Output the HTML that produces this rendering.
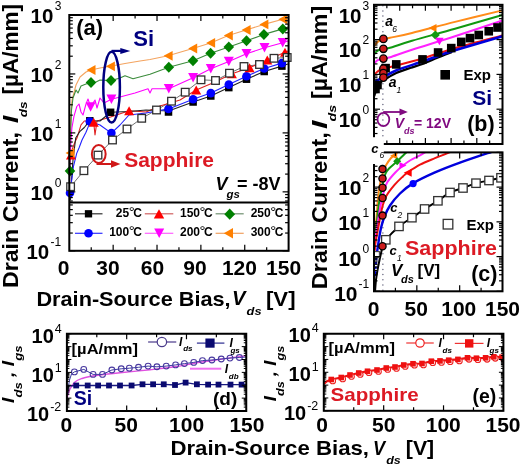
<!DOCTYPE html><html><head><meta charset="utf-8"><style>html,body{margin:0;padding:0;background:#fff;overflow:hidden}svg{display:block}</style></head><body><svg width="520" height="464" viewBox="0 0 520 464" font-family="Liberation Sans, Arial, sans-serif">
<rect width="520" height="464" fill="#fff"/>
<polyline points="69.5,200.0 70.6,186.7 83.9,170.7 98.0,155.1 112.5,140.0 127.0,129.0 141.7,118.3 156.5,110.0 171.5,101.2 185.2,92.2 201.0,79.8 215.5,80.5 229.5,73.2 244.0,66.5 259.5,64.5 274.0,58.3 287.2,57.5" fill="none" stroke="#707070" stroke-width="1" stroke-linejoin="round" />
<polyline points="70.0,153.0 70.5,120.0 72.0,100.0 76.0,85.0 80.0,77.0 86.0,72.0 91.0,70.0 100.0,68.0 110.4,66.3 125.0,63.5 140.0,61.0 150.0,59.5 168.1,55.8 192.7,48.5 210.6,42.9 228.3,35.6 246.1,30.0 263.9,24.4 282.8,19.3 288.0,17.5" fill="none" stroke="#f4a460" stroke-width="1.1" stroke-linejoin="round" />
<polyline points="70.0,171.0 70.5,140.0 71.5,110.0 73.0,98.0 76.0,90.0 78.0,93.0 81.0,86.0 86.0,84.0 91.0,82.5 96.0,82.0 100.0,80.0 111.0,80.6 120.0,78.0 125.0,75.8 133.0,78.8 150.0,74.2 168.8,67.3 193.0,60.8 210.6,53.3 228.8,46.9 246.5,40.8 263.9,34.4 282.8,28.9 288.0,27.0" fill="none" stroke="#3c8c3c" stroke-width="1.1" stroke-linejoin="round" />
<polyline points="69.5,185.0 70.0,160.0 71.0,140.0 71.9,128.0 74.0,116.2 76.8,106.5 79.0,104.0 81.0,112.0 83.0,115.0 86.0,104.0 88.0,99.0 90.6,106.9 95.0,100.0 97.0,108.0 100.0,98.0 104.0,103.0 111.4,99.2 120.0,97.0 135.0,93.0 148.0,88.8 150.0,93.0 152.0,88.8 168.8,88.8 193.1,77.7 210.8,68.7 228.8,61.5 246.5,53.8 264.5,47.7 282.7,42.7 288.0,41.0" fill="none" stroke="#ff00ff" stroke-width="1.1" stroke-linejoin="round" />
<polyline points="70.0,160.0 72.0,150.0 75.0,142.0 77.3,137.2 81.0,124.8 84.3,121.0 89.8,121.0 93.7,122.3 95.0,135.0 97.0,121.0 110.6,117.0 129.1,110.8 146.0,112.0 160.0,106.0 180.0,100.0 196.2,90.0 215.0,82.0 231.9,73.8 249.6,67.7 267.3,60.0 285.0,52.3 288.0,51.0" fill="none" stroke="#e02020" stroke-width="1.1" stroke-linejoin="round" />
<polyline points="70.5,200.0 71.5,180.0 73.0,160.0 75.7,138.0 80.0,131.3 84.3,127.5 87.0,124.2 89.8,120.8 100.0,121.0 110.6,112.3 129.0,111.5 146.0,110.0 168.5,111.0 193.1,102.0 210.8,96.0 228.8,87.6 246.5,79.2 264.2,71.5 281.9,66.1 288.0,64.0" fill="none" stroke="#202020" stroke-width="1.1" stroke-linejoin="round" />
<polyline points="69.5,200.0 70.0,193.0 72.0,178.0 73.4,166.7 76.7,153.4 79.0,148.0 82.0,140.0 86.0,132.3 88.6,125.9 89.8,121.5 100.0,125.0 111.4,133.1 120.0,125.0 129.0,115.0 146.0,113.0 168.5,108.9 193.1,99.2 210.8,93.1 228.8,84.6 246.5,76.2 264.2,68.5 281.9,63.1 288.0,61.0" fill="none" stroke="#2020ff" stroke-width="1.1" stroke-linejoin="round" />
<rect x="86.05" y="117.05" width="7.5" height="7.5" fill="#000" />
<rect x="106.85" y="108.55" width="7.5" height="7.5" fill="#000" />
<rect x="164.75" y="108.25" width="7.5" height="7.5" fill="#000" />
<rect x="189.35" y="98.25" width="7.5" height="7.5" fill="#000" />
<rect x="207.05" y="92.25" width="7.5" height="7.5" fill="#000" />
<rect x="225.05" y="83.85" width="7.5" height="7.5" fill="#000" />
<rect x="242.75" y="75.45" width="7.5" height="7.5" fill="#000" />
<rect x="260.45" y="67.75" width="7.5" height="7.5" fill="#000" />
<rect x="278.15" y="62.35" width="7.5" height="7.5" fill="#000" />
<circle cx="70.00" cy="193.00" r="4.3" fill="#0000ff" />
<circle cx="89.80" cy="121.50" r="4.3" fill="#0000ff" />
<circle cx="111.40" cy="133.10" r="4.3" fill="#0000ff" />
<circle cx="168.50" cy="108.90" r="4.3" fill="#0000ff" />
<circle cx="193.10" cy="99.20" r="4.3" fill="#0000ff" />
<circle cx="210.80" cy="93.10" r="4.3" fill="#0000ff" />
<circle cx="228.80" cy="84.60" r="4.3" fill="#0000ff" />
<circle cx="246.50" cy="76.20" r="4.3" fill="#0000ff" />
<circle cx="264.20" cy="68.50" r="4.3" fill="#0000ff" />
<circle cx="281.90" cy="63.10" r="4.3" fill="#0000ff" />
<polygon points="71.00,150.50 76.00,159.50 66.00,159.50" fill="#ff0000" />
<polygon points="93.70,117.80 98.70,126.80 88.70,126.80" fill="#ff0000" />
<polygon points="129.10,106.30 134.10,115.30 124.10,115.30" fill="#ff0000" />
<polygon points="196.20,85.50 201.20,94.50 191.20,94.50" fill="#ff0000" />
<polygon points="231.90,69.30 236.90,78.30 226.90,78.30" fill="#ff0000" />
<polygon points="249.60,63.20 254.60,72.20 244.60,72.20" fill="#ff0000" />
<polygon points="267.30,55.50 272.30,64.50 262.30,64.50" fill="#ff0000" />
<polygon points="285.00,47.80 290.00,56.80 280.00,56.80" fill="#ff0000" />
<polygon points="90.60,111.65 95.60,102.15 85.60,102.15" fill="#ff00ff" />
<polygon points="111.40,103.95 116.40,94.45 106.40,94.45" fill="#ff00ff" />
<polygon points="168.80,93.55 173.80,84.05 163.80,84.05" fill="#ff00ff" />
<polygon points="193.10,82.45 198.10,72.95 188.10,72.95" fill="#ff00ff" />
<polygon points="210.80,73.45 215.80,63.95 205.80,63.95" fill="#ff00ff" />
<polygon points="228.80,66.25 233.80,56.75 223.80,56.75" fill="#ff00ff" />
<polygon points="246.50,58.55 251.50,49.05 241.50,49.05" fill="#ff00ff" />
<polygon points="264.50,52.45 269.50,42.95 259.50,42.95" fill="#ff00ff" />
<polygon points="282.70,47.45 287.70,37.95 277.70,37.95" fill="#ff00ff" />
<polygon points="70.00,165.50 75.30,171.00 70.00,176.50 64.70,171.00" fill="#008000" />
<polygon points="91.00,77.00 96.30,82.50 91.00,88.00 85.70,82.50" fill="#008000" />
<polygon points="111.00,75.10 116.30,80.60 111.00,86.10 105.70,80.60" fill="#008000" />
<polygon points="168.80,61.80 174.10,67.30 168.80,72.80 163.50,67.30" fill="#008000" />
<polygon points="193.00,55.30 198.30,60.80 193.00,66.30 187.70,60.80" fill="#008000" />
<polygon points="210.60,47.80 215.90,53.30 210.60,58.80 205.30,53.30" fill="#008000" />
<polygon points="228.80,41.40 234.10,46.90 228.80,52.40 223.50,46.90" fill="#008000" />
<polygon points="246.50,35.30 251.80,40.80 246.50,46.30 241.20,40.80" fill="#008000" />
<polygon points="263.90,28.90 269.20,34.40 263.90,39.90 258.60,34.40" fill="#008000" />
<polygon points="282.80,23.40 288.10,28.90 282.80,34.40 277.50,28.90" fill="#008000" />
<polygon points="65.50,153.00 74.50,148.10 74.50,157.90" fill="#ff8000" />
<polygon points="86.50,70.00 95.50,65.10 95.50,74.90" fill="#ff8000" />
<polygon points="105.90,66.30 114.90,61.40 114.90,71.20" fill="#ff8000" />
<polygon points="163.60,55.80 172.60,50.90 172.60,60.70" fill="#ff8000" />
<polygon points="188.20,48.50 197.20,43.60 197.20,53.40" fill="#ff8000" />
<polygon points="206.10,42.90 215.10,38.00 215.10,47.80" fill="#ff8000" />
<polygon points="223.80,35.60 232.80,30.70 232.80,40.50" fill="#ff8000" />
<polygon points="241.60,30.00 250.60,25.10 250.60,34.90" fill="#ff8000" />
<polygon points="259.40,24.40 268.40,19.50 268.40,29.30" fill="#ff8000" />
<polygon points="278.30,19.30 287.30,14.40 287.30,24.20" fill="#ff8000" />
<rect x="66.80" y="182.90" width="7.6" height="7.6" fill="#fff" stroke="#303030" stroke-width="1.3"/>
<rect x="80.10" y="166.90" width="7.6" height="7.6" fill="#fff" stroke="#303030" stroke-width="1.3"/>
<rect x="94.20" y="151.30" width="7.6" height="7.6" fill="#fff" stroke="#303030" stroke-width="1.3"/>
<rect x="108.70" y="136.20" width="7.6" height="7.6" fill="#fff" stroke="#303030" stroke-width="1.3"/>
<rect x="123.20" y="125.20" width="7.6" height="7.6" fill="#fff" stroke="#303030" stroke-width="1.3"/>
<rect x="137.90" y="114.50" width="7.6" height="7.6" fill="#fff" stroke="#303030" stroke-width="1.3"/>
<rect x="152.70" y="106.20" width="7.6" height="7.6" fill="#fff" stroke="#303030" stroke-width="1.3"/>
<rect x="167.70" y="97.40" width="7.6" height="7.6" fill="#fff" stroke="#303030" stroke-width="1.3"/>
<rect x="181.40" y="88.40" width="7.6" height="7.6" fill="#fff" stroke="#303030" stroke-width="1.3"/>
<rect x="197.20" y="76.00" width="7.6" height="7.6" fill="#fff" stroke="#303030" stroke-width="1.3"/>
<rect x="211.70" y="76.70" width="7.6" height="7.6" fill="#fff" stroke="#303030" stroke-width="1.3"/>
<rect x="225.70" y="69.40" width="7.6" height="7.6" fill="#fff" stroke="#303030" stroke-width="1.3"/>
<rect x="240.20" y="62.70" width="7.6" height="7.6" fill="#fff" stroke="#303030" stroke-width="1.3"/>
<rect x="255.70" y="60.70" width="7.6" height="7.6" fill="#fff" stroke="#303030" stroke-width="1.3"/>
<rect x="270.20" y="54.50" width="7.6" height="7.6" fill="#fff" stroke="#303030" stroke-width="1.3"/>
<rect x="283.40" y="53.70" width="7.6" height="7.6" fill="#fff" stroke="#303030" stroke-width="1.3"/>
<ellipse cx="111.6" cy="87.2" rx="8.3" ry="35.4" fill="none" stroke="#000080" stroke-width="2.5"/>
<line x1="111.60" y1="50.90" x2="122.00" y2="50.90" stroke="#000080" stroke-width="2.2" />
<polygon points="120.3,47.9 130.4,50.9 120.3,53.9" fill="#000080"/>
<ellipse cx="98.75" cy="154" rx="6.9" ry="9" fill="none" stroke="#d01818" stroke-width="2"/>
<line x1="96.50" y1="164.00" x2="112.00" y2="164.00" stroke="#d01818" stroke-width="2" />
<polygon points="111,160.3 120.5,164 111,167.7" fill="#d01818"/>
<rect x="70.3" y="203.5" width="217.3" height="46.3" fill="#fff"/>
<line x1="69.30" y1="202.60" x2="288.60" y2="202.60" stroke="#000" stroke-width="2" />
<line x1="69.30" y1="15.00" x2="75.30" y2="15.00" stroke="#000" stroke-width="1.2" />
<line x1="288.60" y1="15.00" x2="282.60" y2="15.00" stroke="#000" stroke-width="1.2" />
<line x1="69.30" y1="56.20" x2="72.80" y2="56.20" stroke="#000" stroke-width="1.2" />
<line x1="288.60" y1="56.20" x2="285.10" y2="56.20" stroke="#000" stroke-width="1.2" />
<line x1="69.30" y1="45.82" x2="72.80" y2="45.82" stroke="#000" stroke-width="1.2" />
<line x1="288.60" y1="45.82" x2="285.10" y2="45.82" stroke="#000" stroke-width="1.2" />
<line x1="69.30" y1="38.46" x2="72.80" y2="38.46" stroke="#000" stroke-width="1.2" />
<line x1="288.60" y1="38.46" x2="285.10" y2="38.46" stroke="#000" stroke-width="1.2" />
<line x1="69.30" y1="32.75" x2="72.80" y2="32.75" stroke="#000" stroke-width="1.2" />
<line x1="288.60" y1="32.75" x2="285.10" y2="32.75" stroke="#000" stroke-width="1.2" />
<line x1="69.30" y1="28.08" x2="72.80" y2="28.08" stroke="#000" stroke-width="1.2" />
<line x1="288.60" y1="28.08" x2="285.10" y2="28.08" stroke="#000" stroke-width="1.2" />
<line x1="69.30" y1="24.13" x2="72.80" y2="24.13" stroke="#000" stroke-width="1.2" />
<line x1="288.60" y1="24.13" x2="285.10" y2="24.13" stroke="#000" stroke-width="1.2" />
<line x1="69.30" y1="20.71" x2="72.80" y2="20.71" stroke="#000" stroke-width="1.2" />
<line x1="288.60" y1="20.71" x2="285.10" y2="20.71" stroke="#000" stroke-width="1.2" />
<line x1="69.30" y1="17.70" x2="72.80" y2="17.70" stroke="#000" stroke-width="1.2" />
<line x1="288.60" y1="17.70" x2="285.10" y2="17.70" stroke="#000" stroke-width="1.2" />
<line x1="69.30" y1="73.95" x2="75.30" y2="73.95" stroke="#000" stroke-width="1.2" />
<line x1="288.60" y1="73.95" x2="282.60" y2="73.95" stroke="#000" stroke-width="1.2" />
<line x1="69.30" y1="115.15" x2="72.80" y2="115.15" stroke="#000" stroke-width="1.2" />
<line x1="288.60" y1="115.15" x2="285.10" y2="115.15" stroke="#000" stroke-width="1.2" />
<line x1="69.30" y1="104.77" x2="72.80" y2="104.77" stroke="#000" stroke-width="1.2" />
<line x1="288.60" y1="104.77" x2="285.10" y2="104.77" stroke="#000" stroke-width="1.2" />
<line x1="69.30" y1="97.41" x2="72.80" y2="97.41" stroke="#000" stroke-width="1.2" />
<line x1="288.60" y1="97.41" x2="285.10" y2="97.41" stroke="#000" stroke-width="1.2" />
<line x1="69.30" y1="91.70" x2="72.80" y2="91.70" stroke="#000" stroke-width="1.2" />
<line x1="288.60" y1="91.70" x2="285.10" y2="91.70" stroke="#000" stroke-width="1.2" />
<line x1="69.30" y1="87.03" x2="72.80" y2="87.03" stroke="#000" stroke-width="1.2" />
<line x1="288.60" y1="87.03" x2="285.10" y2="87.03" stroke="#000" stroke-width="1.2" />
<line x1="69.30" y1="83.08" x2="72.80" y2="83.08" stroke="#000" stroke-width="1.2" />
<line x1="288.60" y1="83.08" x2="285.10" y2="83.08" stroke="#000" stroke-width="1.2" />
<line x1="69.30" y1="79.66" x2="72.80" y2="79.66" stroke="#000" stroke-width="1.2" />
<line x1="288.60" y1="79.66" x2="285.10" y2="79.66" stroke="#000" stroke-width="1.2" />
<line x1="69.30" y1="76.65" x2="72.80" y2="76.65" stroke="#000" stroke-width="1.2" />
<line x1="288.60" y1="76.65" x2="285.10" y2="76.65" stroke="#000" stroke-width="1.2" />
<line x1="69.30" y1="132.90" x2="75.30" y2="132.90" stroke="#000" stroke-width="1.2" />
<line x1="288.60" y1="132.90" x2="282.60" y2="132.90" stroke="#000" stroke-width="1.2" />
<line x1="69.30" y1="174.10" x2="72.80" y2="174.10" stroke="#000" stroke-width="1.2" />
<line x1="288.60" y1="174.10" x2="285.10" y2="174.10" stroke="#000" stroke-width="1.2" />
<line x1="69.30" y1="163.72" x2="72.80" y2="163.72" stroke="#000" stroke-width="1.2" />
<line x1="288.60" y1="163.72" x2="285.10" y2="163.72" stroke="#000" stroke-width="1.2" />
<line x1="69.30" y1="156.36" x2="72.80" y2="156.36" stroke="#000" stroke-width="1.2" />
<line x1="288.60" y1="156.36" x2="285.10" y2="156.36" stroke="#000" stroke-width="1.2" />
<line x1="69.30" y1="150.65" x2="72.80" y2="150.65" stroke="#000" stroke-width="1.2" />
<line x1="288.60" y1="150.65" x2="285.10" y2="150.65" stroke="#000" stroke-width="1.2" />
<line x1="69.30" y1="145.98" x2="72.80" y2="145.98" stroke="#000" stroke-width="1.2" />
<line x1="288.60" y1="145.98" x2="285.10" y2="145.98" stroke="#000" stroke-width="1.2" />
<line x1="69.30" y1="142.03" x2="72.80" y2="142.03" stroke="#000" stroke-width="1.2" />
<line x1="288.60" y1="142.03" x2="285.10" y2="142.03" stroke="#000" stroke-width="1.2" />
<line x1="69.30" y1="138.61" x2="72.80" y2="138.61" stroke="#000" stroke-width="1.2" />
<line x1="288.60" y1="138.61" x2="285.10" y2="138.61" stroke="#000" stroke-width="1.2" />
<line x1="69.30" y1="135.60" x2="72.80" y2="135.60" stroke="#000" stroke-width="1.2" />
<line x1="288.60" y1="135.60" x2="285.10" y2="135.60" stroke="#000" stroke-width="1.2" />
<line x1="69.30" y1="191.85" x2="75.30" y2="191.85" stroke="#000" stroke-width="1.2" />
<line x1="288.60" y1="191.85" x2="282.60" y2="191.85" stroke="#000" stroke-width="1.2" />
<line x1="69.30" y1="233.05" x2="72.80" y2="233.05" stroke="#000" stroke-width="1.2" />
<line x1="288.60" y1="233.05" x2="285.10" y2="233.05" stroke="#000" stroke-width="1.2" />
<line x1="69.30" y1="222.67" x2="72.80" y2="222.67" stroke="#000" stroke-width="1.2" />
<line x1="288.60" y1="222.67" x2="285.10" y2="222.67" stroke="#000" stroke-width="1.2" />
<line x1="69.30" y1="215.31" x2="72.80" y2="215.31" stroke="#000" stroke-width="1.2" />
<line x1="288.60" y1="215.31" x2="285.10" y2="215.31" stroke="#000" stroke-width="1.2" />
<line x1="69.30" y1="209.60" x2="72.80" y2="209.60" stroke="#000" stroke-width="1.2" />
<line x1="288.60" y1="209.60" x2="285.10" y2="209.60" stroke="#000" stroke-width="1.2" />
<line x1="69.30" y1="204.93" x2="72.80" y2="204.93" stroke="#000" stroke-width="1.2" />
<line x1="288.60" y1="204.93" x2="285.10" y2="204.93" stroke="#000" stroke-width="1.2" />
<line x1="69.30" y1="200.98" x2="72.80" y2="200.98" stroke="#000" stroke-width="1.2" />
<line x1="288.60" y1="200.98" x2="285.10" y2="200.98" stroke="#000" stroke-width="1.2" />
<line x1="69.30" y1="197.56" x2="72.80" y2="197.56" stroke="#000" stroke-width="1.2" />
<line x1="288.60" y1="197.56" x2="285.10" y2="197.56" stroke="#000" stroke-width="1.2" />
<line x1="69.30" y1="194.55" x2="72.80" y2="194.55" stroke="#000" stroke-width="1.2" />
<line x1="288.60" y1="194.55" x2="285.10" y2="194.55" stroke="#000" stroke-width="1.2" />
<line x1="69.30" y1="250.80" x2="75.30" y2="250.80" stroke="#000" stroke-width="1.2" />
<line x1="288.60" y1="250.80" x2="282.60" y2="250.80" stroke="#000" stroke-width="1.2" />
<line x1="91.23" y1="250.80" x2="91.23" y2="247.30" stroke="#000" stroke-width="1.2" />
<line x1="91.23" y1="15.00" x2="91.23" y2="18.50" stroke="#000" stroke-width="1.2" />
<line x1="113.16" y1="250.80" x2="113.16" y2="244.80" stroke="#000" stroke-width="1.2" />
<line x1="113.16" y1="15.00" x2="113.16" y2="21.00" stroke="#000" stroke-width="1.2" />
<line x1="135.09" y1="250.80" x2="135.09" y2="247.30" stroke="#000" stroke-width="1.2" />
<line x1="135.09" y1="15.00" x2="135.09" y2="18.50" stroke="#000" stroke-width="1.2" />
<line x1="157.02" y1="250.80" x2="157.02" y2="244.80" stroke="#000" stroke-width="1.2" />
<line x1="157.02" y1="15.00" x2="157.02" y2="21.00" stroke="#000" stroke-width="1.2" />
<line x1="178.95" y1="250.80" x2="178.95" y2="247.30" stroke="#000" stroke-width="1.2" />
<line x1="178.95" y1="15.00" x2="178.95" y2="18.50" stroke="#000" stroke-width="1.2" />
<line x1="200.88" y1="250.80" x2="200.88" y2="244.80" stroke="#000" stroke-width="1.2" />
<line x1="200.88" y1="15.00" x2="200.88" y2="21.00" stroke="#000" stroke-width="1.2" />
<line x1="222.81" y1="250.80" x2="222.81" y2="247.30" stroke="#000" stroke-width="1.2" />
<line x1="222.81" y1="15.00" x2="222.81" y2="18.50" stroke="#000" stroke-width="1.2" />
<line x1="244.74" y1="250.80" x2="244.74" y2="244.80" stroke="#000" stroke-width="1.2" />
<line x1="244.74" y1="15.00" x2="244.74" y2="21.00" stroke="#000" stroke-width="1.2" />
<line x1="266.67" y1="250.80" x2="266.67" y2="247.30" stroke="#000" stroke-width="1.2" />
<line x1="266.67" y1="15.00" x2="266.67" y2="18.50" stroke="#000" stroke-width="1.2" />
<rect x="69.3" y="15.0" width="219.30" height="235.80" fill="none" stroke="#000" stroke-width="2"/>
<line x1="75.00" y1="213.80" x2="102.50" y2="213.80" stroke="#303030" stroke-width="1.2" />
<rect x="84.85" y="210.15" width="7.3" height="7.3" fill="#000" />
<line x1="75.00" y1="233.30" x2="102.50" y2="233.30" stroke="#3030ff" stroke-width="1.2" />
<circle cx="88.50" cy="233.30" r="4.3" fill="#0000ff" />
<line x1="144.80" y1="213.80" x2="173.30" y2="213.80" stroke="#d06060" stroke-width="1.2" />
<polygon points="159.00,209.20 164.20,218.40 153.80,218.40" fill="#ff0000" />
<line x1="144.80" y1="233.30" x2="173.30" y2="233.30" stroke="#ff60ff" stroke-width="1.2" />
<polygon points="159.20,238.05 164.20,228.55 154.20,228.55" fill="#ff00ff" />
<line x1="215.60" y1="213.80" x2="243.70" y2="213.80" stroke="#709070" stroke-width="1.2" />
<polygon points="229.70,208.55 235.10,214.20 229.70,219.85 224.30,214.20" fill="#008000" />
<line x1="215.60" y1="233.30" x2="243.70" y2="233.30" stroke="#f0a060" stroke-width="1.2" />
<polygon points="223.80,233.30 233.00,228.10 233.00,238.50" fill="#ff8000" />
<text x="141.80" y="217.30" font-size="12" font-weight="bold" font-style="normal" fill="#000" text-anchor="end" >C</text>
<text x="128.70" y="216.60" font-size="15" font-weight="normal" font-style="normal" fill="#000" text-anchor="start" >°</text>
<text x="129.20" y="217.30" font-size="12" font-weight="bold" font-style="normal" fill="#000" text-anchor="end" >25</text>
<text x="141.80" y="236.30" font-size="12" font-weight="bold" font-style="normal" fill="#000" text-anchor="end" >C</text>
<text x="128.70" y="235.60" font-size="15" font-weight="normal" font-style="normal" fill="#000" text-anchor="start" >°</text>
<text x="129.20" y="236.30" font-size="12" font-weight="bold" font-style="normal" fill="#000" text-anchor="end" >100</text>
<text x="212.60" y="217.30" font-size="12" font-weight="bold" font-style="normal" fill="#000" text-anchor="end" >C</text>
<text x="199.50" y="216.60" font-size="15" font-weight="normal" font-style="normal" fill="#000" text-anchor="start" >°</text>
<text x="200.00" y="217.30" font-size="12" font-weight="bold" font-style="normal" fill="#000" text-anchor="end" >150</text>
<text x="212.60" y="236.30" font-size="12" font-weight="bold" font-style="normal" fill="#000" text-anchor="end" >C</text>
<text x="199.50" y="235.60" font-size="15" font-weight="normal" font-style="normal" fill="#000" text-anchor="start" >°</text>
<text x="200.00" y="236.30" font-size="12" font-weight="bold" font-style="normal" fill="#000" text-anchor="end" >200</text>
<text x="283.30" y="217.30" font-size="12" font-weight="bold" font-style="normal" fill="#000" text-anchor="end" >C</text>
<text x="270.20" y="216.60" font-size="15" font-weight="normal" font-style="normal" fill="#000" text-anchor="start" >°</text>
<text x="270.70" y="217.30" font-size="12" font-weight="bold" font-style="normal" fill="#000" text-anchor="end" >250</text>
<text x="283.30" y="236.30" font-size="12" font-weight="bold" font-style="normal" fill="#000" text-anchor="end" >C</text>
<text x="270.20" y="235.60" font-size="15" font-weight="normal" font-style="normal" fill="#000" text-anchor="start" >°</text>
<text x="270.70" y="236.30" font-size="12" font-weight="bold" font-style="normal" fill="#000" text-anchor="end" >300</text>
<text x="76.30" y="35.30" font-size="22" font-weight="bold" font-style="normal" fill="#000" text-anchor="start" >(a)</text>
<text x="133.30" y="45.80" font-size="22" font-weight="bold" font-style="normal" fill="#000080" text-anchor="start" >Si</text>
<text x="124.20" y="167.00" font-size="21" font-weight="bold" font-style="normal" fill="#dc1a24" text-anchor="start" >Sapphire</text>
<text x="215.60" y="190.20" font-size="18" font-weight="bold" font-style="italic" fill="#000" text-anchor="start" >V</text>
<text x="226.40" y="197.60" font-size="11.5" font-weight="bold" font-style="italic" fill="#000" text-anchor="start" >gs</text>
<text x="280.60" y="190.20" font-size="18" font-weight="bold" font-style="normal" fill="#000" text-anchor="end" >= -8V</text>
<text x="53.40" y="22.80" font-size="20.5" font-weight="bold" font-style="normal" fill="#000" text-anchor="end" >10</text>
<text x="54.80" y="10.20" font-size="12" font-weight="normal" font-style="normal" fill="#000" text-anchor="start" >3</text>
<text x="53.40" y="81.75" font-size="20.5" font-weight="bold" font-style="normal" fill="#000" text-anchor="end" >10</text>
<text x="54.80" y="69.15" font-size="12" font-weight="normal" font-style="normal" fill="#000" text-anchor="start" >2</text>
<text x="53.40" y="140.70" font-size="20.5" font-weight="bold" font-style="normal" fill="#000" text-anchor="end" >10</text>
<text x="54.80" y="128.10" font-size="12" font-weight="normal" font-style="normal" fill="#000" text-anchor="start" >1</text>
<text x="53.40" y="199.65" font-size="20.5" font-weight="bold" font-style="normal" fill="#000" text-anchor="end" >10</text>
<text x="54.80" y="187.05" font-size="12" font-weight="normal" font-style="normal" fill="#000" text-anchor="start" >0</text>
<text x="49.20" y="258.60" font-size="20.5" font-weight="bold" font-style="normal" fill="#000" text-anchor="end" >10</text>
<text x="50.60" y="246.00" font-size="12" font-weight="normal" font-style="normal" fill="#000" text-anchor="start" >-1</text>
<text x="63.50" y="275.30" font-size="21" font-weight="bold" font-style="normal" fill="#000" text-anchor="middle" >0</text>
<text x="107.90" y="275.30" font-size="21" font-weight="bold" font-style="normal" fill="#000" text-anchor="middle" >30</text>
<text x="152.50" y="275.30" font-size="21" font-weight="bold" font-style="normal" fill="#000" text-anchor="middle" >60</text>
<text x="195.00" y="275.30" font-size="21" font-weight="bold" font-style="normal" fill="#000" text-anchor="middle" >90</text>
<text x="239.40" y="275.30" font-size="21" font-weight="bold" font-style="normal" fill="#000" text-anchor="middle" >120</text>
<text x="283.60" y="275.30" font-size="21" font-weight="bold" font-style="normal" fill="#000" text-anchor="middle" >150</text>
<text x="36.40" y="306.00" font-size="20.5" font-weight="bold" font-style="normal" fill="#000" textLength="194.26" lengthAdjust="spacingAndGlyphs">Drain-Source Bias,</text>
<text x="232.00" y="305.40" font-size="20.5" font-weight="bold" font-style="italic" fill="#000" textLength="13.48" lengthAdjust="spacingAndGlyphs">V</text>
<text x="246.60" y="314.60" font-size="11.5" font-weight="bold" font-style="italic" fill="#000" textLength="15.00" lengthAdjust="spacingAndGlyphs">ds</text>
<text x="266.00" y="306.00" font-size="20.5" font-weight="bold" font-style="normal" fill="#000" textLength="29.52" lengthAdjust="spacingAndGlyphs">[V]</text>
<text transform="translate(17.60,288.10) rotate(-90)" font-size="21.5" font-weight="bold" font-style="normal" fill="#000" textLength="155.96" lengthAdjust="spacingAndGlyphs">Drain Current,</text>
<text transform="translate(17.80,123.20) rotate(-90)" font-size="21.5" font-weight="bold" font-style="italic" fill="#000" textLength="7.60" lengthAdjust="spacingAndGlyphs">I</text>
<text transform="translate(26.90,117.20) rotate(-90)" font-size="11.5" font-weight="bold" font-style="italic" fill="#000" textLength="15.90" lengthAdjust="spacingAndGlyphs">ds</text>
<text transform="translate(17.60,94.60) rotate(-90)" font-size="21.5" font-weight="bold" font-style="normal" fill="#000" textLength="90.57" lengthAdjust="spacingAndGlyphs">[µA/mm]</text>
<clipPath id="cb"><rect x="374.0" y="4.8" width="128.5" height="139.2"/></clipPath>
<g clip-path="url(#cb)">
<circle cx="382.90" cy="5.70" r="0.75" fill="#686880" />
<circle cx="382.90" cy="10.90" r="0.75" fill="#686880" />
<circle cx="382.90" cy="16.10" r="0.75" fill="#686880" />
<circle cx="382.90" cy="21.30" r="0.75" fill="#686880" />
<circle cx="382.90" cy="26.50" r="0.75" fill="#686880" />
<circle cx="382.90" cy="31.70" r="0.75" fill="#686880" />
<circle cx="382.90" cy="36.90" r="0.75" fill="#686880" />
<circle cx="382.90" cy="42.10" r="0.75" fill="#686880" />
<circle cx="382.90" cy="47.30" r="0.75" fill="#686880" />
<circle cx="382.90" cy="52.50" r="0.75" fill="#686880" />
<circle cx="382.90" cy="57.70" r="0.75" fill="#686880" />
<circle cx="382.90" cy="62.90" r="0.75" fill="#686880" />
<circle cx="382.90" cy="68.10" r="0.75" fill="#686880" />
<circle cx="382.90" cy="73.30" r="0.75" fill="#686880" />
<circle cx="382.90" cy="78.50" r="0.75" fill="#686880" />
<circle cx="382.90" cy="83.70" r="0.75" fill="#686880" />
<circle cx="382.90" cy="88.90" r="0.75" fill="#686880" />
<circle cx="382.90" cy="94.10" r="0.75" fill="#686880" />
<circle cx="382.90" cy="99.30" r="0.75" fill="#686880" />
<circle cx="382.90" cy="104.50" r="0.75" fill="#686880" />
<circle cx="382.90" cy="109.70" r="0.75" fill="#686880" />
<circle cx="382.90" cy="114.90" r="0.75" fill="#686880" />
<circle cx="382.90" cy="120.10" r="0.75" fill="#686880" />
<circle cx="382.90" cy="125.30" r="0.75" fill="#686880" />
<circle cx="382.90" cy="130.50" r="0.75" fill="#686880" />
<circle cx="382.90" cy="135.70" r="0.75" fill="#686880" />
<circle cx="382.90" cy="140.90" r="0.75" fill="#686880" />
<path d="M374.00,46.50 C374.42,45.92 375.58,43.98 376.50,43.00 C377.42,42.02 378.33,41.23 379.50,40.60 C380.67,39.97 381.75,39.67 383.50,39.20 C385.25,38.73 385.25,38.83 390.00,37.80 C394.75,36.77 401.17,35.65 412.00,33.00 C422.83,30.35 439.92,25.67 455.00,21.90 C470.08,18.13 494.58,12.32 502.50,10.40" fill="none" stroke="#ff8c1a" stroke-width="2" stroke-linejoin="round" stroke-linecap="round" />
<path d="M374.00,54.50 C374.42,54.00 375.58,52.28 376.50,51.50 C377.42,50.72 378.33,50.25 379.50,49.80 C380.67,49.35 381.75,49.13 383.50,48.80 C385.25,48.47 385.25,49.13 390.00,47.80 C394.75,46.47 401.17,43.97 412.00,40.80 C422.83,37.62 439.92,33.05 455.00,28.75 C470.08,24.45 494.58,17.29 502.50,15.00" fill="none" stroke="#119911" stroke-width="2" stroke-linejoin="round" stroke-linecap="round" />
<path d="M374.00,64.00 C374.42,63.50 375.58,61.77 376.50,61.00 C377.42,60.23 378.33,59.80 379.50,59.40 C380.67,59.00 381.75,58.95 383.50,58.60 C385.25,58.25 385.25,58.78 390.00,57.30 C394.75,55.82 401.17,53.21 412.00,49.70 C422.83,46.19 439.92,41.12 455.00,36.25 C470.08,31.38 494.58,23.12 502.50,20.50" fill="none" stroke="#ff22ff" stroke-width="2" stroke-linejoin="round" stroke-linecap="round" />
<path d="M374.00,75.00 C374.50,74.50 376.00,72.83 377.00,72.00 C378.00,71.17 378.92,70.57 380.00,70.00 C381.08,69.43 380.83,69.35 383.50,68.60 C386.17,67.85 389.50,67.18 396.00,65.50 C402.50,63.82 412.67,61.38 422.50,58.50 C432.33,55.62 441.67,52.03 455.00,48.20 C468.33,44.37 494.58,37.62 502.50,35.50" fill="none" stroke="#ee1111" stroke-width="2" stroke-linejoin="round" stroke-linecap="round" />
<path d="M374.30,96.00 C374.67,94.83 375.72,91.00 376.50,89.00 C377.28,87.00 377.92,85.42 379.00,84.00 C380.08,82.58 381.50,81.58 383.00,80.50 C384.50,79.42 385.79,78.75 388.00,77.50 C390.21,76.25 392.58,74.58 396.25,73.00 C399.92,71.42 405.62,69.50 410.00,68.00 C414.38,66.50 417.83,65.75 422.50,64.00 C427.17,62.25 433.25,59.42 438.00,57.50 C442.75,55.58 448.83,53.33 451.00,52.50" fill="none" stroke="#000" stroke-width="2.2" stroke-linejoin="round" stroke-linecap="round" />
<path d="M374.00,82.50 C374.50,82.17 376.00,81.08 377.00,80.50 C378.00,79.92 378.92,79.50 380.00,79.00 C381.08,78.50 380.83,78.92 383.50,77.50 C386.17,76.08 389.50,73.17 396.00,70.50 C402.50,67.83 415.17,64.05 422.50,61.50 C429.83,58.95 434.58,57.07 440.00,55.20 C445.42,53.33 444.58,53.45 455.00,50.30 C465.42,47.15 494.58,38.63 502.50,36.30" fill="none" stroke="#0000dd" stroke-width="2.6" stroke-linejoin="round" stroke-linecap="round" />
<rect x="371.20" y="84.70" width="8.6" height="8.6" fill="#000" />
<rect x="373.20" y="80.70" width="8.6" height="8.6" fill="#000" />
<rect x="381.30" y="63.80" width="8.6" height="8.6" fill="#000" />
<rect x="391.95" y="60.10" width="8.6" height="8.6" fill="#000" />
<rect x="418.20" y="55.10" width="8.6" height="8.6" fill="#000" />
<rect x="433.80" y="48.20" width="8.6" height="8.6" fill="#000" />
<rect x="446.95" y="43.80" width="8.6" height="8.6" fill="#000" />
<rect x="456.95" y="37.60" width="8.6" height="8.6" fill="#000" />
<rect x="465.70" y="33.80" width="8.6" height="8.6" fill="#000" />
<rect x="474.45" y="30.70" width="8.6" height="8.6" fill="#000" />
<rect x="484.45" y="26.95" width="8.6" height="8.6" fill="#000" />
<rect x="493.20" y="23.20" width="8.6" height="8.6" fill="#000" />
<polygon points="428.50,28.10 436.50,24.10 436.50,32.10" fill="#ff7f00" />
<polygon points="435.30,30.50 439.80,35.00 435.30,39.50 430.80,35.00" fill="#119911" />
<polygon points="439.40,45.25 443.65,37.75 435.15,37.75" fill="#ff00ff" />
<circle cx="383.40" cy="38.90" r="3.7" fill="#cc1c1c" stroke="#000" stroke-width="1.3"/>
<circle cx="383.40" cy="48.80" r="3.7" fill="#cc1c1c" stroke="#000" stroke-width="1.3"/>
<circle cx="383.40" cy="58.60" r="3.7" fill="#cc1c1c" stroke="#000" stroke-width="1.3"/>
<circle cx="383.40" cy="68.60" r="3.7" fill="#cc1c1c" stroke="#000" stroke-width="1.3"/>
<circle cx="383.40" cy="73.10" r="3.7" fill="#cc1c1c" stroke="#000" stroke-width="1.3"/>
<circle cx="383.40" cy="77.60" r="3.7" fill="#cc1c1c" stroke="#000" stroke-width="1.3"/>
</g>
<line x1="374.00" y1="4.80" x2="380.00" y2="4.80" stroke="#000" stroke-width="1.2" />
<line x1="502.50" y1="4.80" x2="496.50" y2="4.80" stroke="#000" stroke-width="1.2" />
<line x1="374.00" y1="29.12" x2="377.50" y2="29.12" stroke="#000" stroke-width="1.2" />
<line x1="502.50" y1="29.12" x2="499.00" y2="29.12" stroke="#000" stroke-width="1.2" />
<line x1="374.00" y1="23.00" x2="377.50" y2="23.00" stroke="#000" stroke-width="1.2" />
<line x1="502.50" y1="23.00" x2="499.00" y2="23.00" stroke="#000" stroke-width="1.2" />
<line x1="374.00" y1="18.65" x2="377.50" y2="18.65" stroke="#000" stroke-width="1.2" />
<line x1="502.50" y1="18.65" x2="499.00" y2="18.65" stroke="#000" stroke-width="1.2" />
<line x1="374.00" y1="15.28" x2="377.50" y2="15.28" stroke="#000" stroke-width="1.2" />
<line x1="502.50" y1="15.28" x2="499.00" y2="15.28" stroke="#000" stroke-width="1.2" />
<line x1="374.00" y1="12.52" x2="377.50" y2="12.52" stroke="#000" stroke-width="1.2" />
<line x1="502.50" y1="12.52" x2="499.00" y2="12.52" stroke="#000" stroke-width="1.2" />
<line x1="374.00" y1="10.19" x2="377.50" y2="10.19" stroke="#000" stroke-width="1.2" />
<line x1="502.50" y1="10.19" x2="499.00" y2="10.19" stroke="#000" stroke-width="1.2" />
<line x1="374.00" y1="8.17" x2="377.50" y2="8.17" stroke="#000" stroke-width="1.2" />
<line x1="502.50" y1="8.17" x2="499.00" y2="8.17" stroke="#000" stroke-width="1.2" />
<line x1="374.00" y1="6.39" x2="377.50" y2="6.39" stroke="#000" stroke-width="1.2" />
<line x1="502.50" y1="6.39" x2="499.00" y2="6.39" stroke="#000" stroke-width="1.2" />
<line x1="374.00" y1="39.60" x2="380.00" y2="39.60" stroke="#000" stroke-width="1.2" />
<line x1="502.50" y1="39.60" x2="496.50" y2="39.60" stroke="#000" stroke-width="1.2" />
<line x1="374.00" y1="63.92" x2="377.50" y2="63.92" stroke="#000" stroke-width="1.2" />
<line x1="502.50" y1="63.92" x2="499.00" y2="63.92" stroke="#000" stroke-width="1.2" />
<line x1="374.00" y1="57.80" x2="377.50" y2="57.80" stroke="#000" stroke-width="1.2" />
<line x1="502.50" y1="57.80" x2="499.00" y2="57.80" stroke="#000" stroke-width="1.2" />
<line x1="374.00" y1="53.45" x2="377.50" y2="53.45" stroke="#000" stroke-width="1.2" />
<line x1="502.50" y1="53.45" x2="499.00" y2="53.45" stroke="#000" stroke-width="1.2" />
<line x1="374.00" y1="50.08" x2="377.50" y2="50.08" stroke="#000" stroke-width="1.2" />
<line x1="502.50" y1="50.08" x2="499.00" y2="50.08" stroke="#000" stroke-width="1.2" />
<line x1="374.00" y1="47.32" x2="377.50" y2="47.32" stroke="#000" stroke-width="1.2" />
<line x1="502.50" y1="47.32" x2="499.00" y2="47.32" stroke="#000" stroke-width="1.2" />
<line x1="374.00" y1="44.99" x2="377.50" y2="44.99" stroke="#000" stroke-width="1.2" />
<line x1="502.50" y1="44.99" x2="499.00" y2="44.99" stroke="#000" stroke-width="1.2" />
<line x1="374.00" y1="42.97" x2="377.50" y2="42.97" stroke="#000" stroke-width="1.2" />
<line x1="502.50" y1="42.97" x2="499.00" y2="42.97" stroke="#000" stroke-width="1.2" />
<line x1="374.00" y1="41.19" x2="377.50" y2="41.19" stroke="#000" stroke-width="1.2" />
<line x1="502.50" y1="41.19" x2="499.00" y2="41.19" stroke="#000" stroke-width="1.2" />
<line x1="374.00" y1="74.40" x2="380.00" y2="74.40" stroke="#000" stroke-width="1.2" />
<line x1="502.50" y1="74.40" x2="496.50" y2="74.40" stroke="#000" stroke-width="1.2" />
<line x1="374.00" y1="98.72" x2="377.50" y2="98.72" stroke="#000" stroke-width="1.2" />
<line x1="502.50" y1="98.72" x2="499.00" y2="98.72" stroke="#000" stroke-width="1.2" />
<line x1="374.00" y1="92.60" x2="377.50" y2="92.60" stroke="#000" stroke-width="1.2" />
<line x1="502.50" y1="92.60" x2="499.00" y2="92.60" stroke="#000" stroke-width="1.2" />
<line x1="374.00" y1="88.25" x2="377.50" y2="88.25" stroke="#000" stroke-width="1.2" />
<line x1="502.50" y1="88.25" x2="499.00" y2="88.25" stroke="#000" stroke-width="1.2" />
<line x1="374.00" y1="84.88" x2="377.50" y2="84.88" stroke="#000" stroke-width="1.2" />
<line x1="502.50" y1="84.88" x2="499.00" y2="84.88" stroke="#000" stroke-width="1.2" />
<line x1="374.00" y1="82.12" x2="377.50" y2="82.12" stroke="#000" stroke-width="1.2" />
<line x1="502.50" y1="82.12" x2="499.00" y2="82.12" stroke="#000" stroke-width="1.2" />
<line x1="374.00" y1="79.79" x2="377.50" y2="79.79" stroke="#000" stroke-width="1.2" />
<line x1="502.50" y1="79.79" x2="499.00" y2="79.79" stroke="#000" stroke-width="1.2" />
<line x1="374.00" y1="77.77" x2="377.50" y2="77.77" stroke="#000" stroke-width="1.2" />
<line x1="502.50" y1="77.77" x2="499.00" y2="77.77" stroke="#000" stroke-width="1.2" />
<line x1="374.00" y1="75.99" x2="377.50" y2="75.99" stroke="#000" stroke-width="1.2" />
<line x1="502.50" y1="75.99" x2="499.00" y2="75.99" stroke="#000" stroke-width="1.2" />
<line x1="374.00" y1="109.20" x2="380.00" y2="109.20" stroke="#000" stroke-width="1.2" />
<line x1="502.50" y1="109.20" x2="496.50" y2="109.20" stroke="#000" stroke-width="1.2" />
<line x1="374.00" y1="133.52" x2="377.50" y2="133.52" stroke="#000" stroke-width="1.2" />
<line x1="502.50" y1="133.52" x2="499.00" y2="133.52" stroke="#000" stroke-width="1.2" />
<line x1="374.00" y1="127.40" x2="377.50" y2="127.40" stroke="#000" stroke-width="1.2" />
<line x1="502.50" y1="127.40" x2="499.00" y2="127.40" stroke="#000" stroke-width="1.2" />
<line x1="374.00" y1="123.05" x2="377.50" y2="123.05" stroke="#000" stroke-width="1.2" />
<line x1="502.50" y1="123.05" x2="499.00" y2="123.05" stroke="#000" stroke-width="1.2" />
<line x1="374.00" y1="119.68" x2="377.50" y2="119.68" stroke="#000" stroke-width="1.2" />
<line x1="502.50" y1="119.68" x2="499.00" y2="119.68" stroke="#000" stroke-width="1.2" />
<line x1="374.00" y1="116.92" x2="377.50" y2="116.92" stroke="#000" stroke-width="1.2" />
<line x1="502.50" y1="116.92" x2="499.00" y2="116.92" stroke="#000" stroke-width="1.2" />
<line x1="374.00" y1="114.59" x2="377.50" y2="114.59" stroke="#000" stroke-width="1.2" />
<line x1="502.50" y1="114.59" x2="499.00" y2="114.59" stroke="#000" stroke-width="1.2" />
<line x1="374.00" y1="112.57" x2="377.50" y2="112.57" stroke="#000" stroke-width="1.2" />
<line x1="502.50" y1="112.57" x2="499.00" y2="112.57" stroke="#000" stroke-width="1.2" />
<line x1="374.00" y1="110.79" x2="377.50" y2="110.79" stroke="#000" stroke-width="1.2" />
<line x1="502.50" y1="110.79" x2="499.00" y2="110.79" stroke="#000" stroke-width="1.2" />
<line x1="374.00" y1="144.00" x2="380.00" y2="144.00" stroke="#000" stroke-width="1.2" />
<line x1="502.50" y1="144.00" x2="496.50" y2="144.00" stroke="#000" stroke-width="1.2" />
<line x1="386.85" y1="144.00" x2="386.85" y2="140.50" stroke="#000" stroke-width="1.2" />
<line x1="386.85" y1="4.80" x2="386.85" y2="8.30" stroke="#000" stroke-width="1.2" />
<line x1="399.70" y1="144.00" x2="399.70" y2="138.00" stroke="#000" stroke-width="1.2" />
<line x1="399.70" y1="4.80" x2="399.70" y2="10.80" stroke="#000" stroke-width="1.2" />
<line x1="412.55" y1="144.00" x2="412.55" y2="140.50" stroke="#000" stroke-width="1.2" />
<line x1="412.55" y1="4.80" x2="412.55" y2="8.30" stroke="#000" stroke-width="1.2" />
<line x1="425.40" y1="144.00" x2="425.40" y2="138.00" stroke="#000" stroke-width="1.2" />
<line x1="425.40" y1="4.80" x2="425.40" y2="10.80" stroke="#000" stroke-width="1.2" />
<line x1="438.25" y1="144.00" x2="438.25" y2="140.50" stroke="#000" stroke-width="1.2" />
<line x1="438.25" y1="4.80" x2="438.25" y2="8.30" stroke="#000" stroke-width="1.2" />
<line x1="451.10" y1="144.00" x2="451.10" y2="138.00" stroke="#000" stroke-width="1.2" />
<line x1="451.10" y1="4.80" x2="451.10" y2="10.80" stroke="#000" stroke-width="1.2" />
<line x1="463.95" y1="144.00" x2="463.95" y2="140.50" stroke="#000" stroke-width="1.2" />
<line x1="463.95" y1="4.80" x2="463.95" y2="8.30" stroke="#000" stroke-width="1.2" />
<line x1="476.80" y1="144.00" x2="476.80" y2="138.00" stroke="#000" stroke-width="1.2" />
<line x1="476.80" y1="4.80" x2="476.80" y2="10.80" stroke="#000" stroke-width="1.2" />
<line x1="489.65" y1="144.00" x2="489.65" y2="140.50" stroke="#000" stroke-width="1.2" />
<line x1="489.65" y1="4.80" x2="489.65" y2="8.30" stroke="#000" stroke-width="1.2" />
<rect x="374.0" y="4.8" width="128.50" height="139.20" fill="none" stroke="#000" stroke-width="2"/>
<rect x="440.40" y="70.00" width="9.6" height="9.6" fill="#000" />
<text x="463.50" y="79.80" font-size="15" font-weight="bold" font-style="normal" fill="#000" text-anchor="start" >Exp</text>
<text x="472.20" y="104.80" font-size="21" font-weight="bold" font-style="normal" fill="#000080" text-anchor="start" >Si</text>
<text x="467.20" y="131.30" font-size="21.5" font-weight="bold" font-style="normal" fill="#000" text-anchor="start" >(b)</text>
<text x="385.30" y="25.50" font-size="14" font-weight="bold" font-style="italic" fill="#000" text-anchor="start" >a</text>
<text x="392.20" y="31.60" font-size="8.5" font-weight="normal" font-style="italic" fill="#000" text-anchor="start" >6</text>
<text x="388.80" y="86.60" font-size="14" font-weight="bold" font-style="italic" fill="#000" text-anchor="start" >a</text>
<text x="396.50" y="93.00" font-size="8.5" font-weight="normal" font-style="italic" fill="#000" text-anchor="start" >1</text>
<ellipse cx="383.4" cy="119.5" rx="5.9" ry="6.6" fill="none" stroke="#800a80" stroke-width="1.8"/>
<line x1="383.20" y1="112.00" x2="401.00" y2="112.00" stroke="#800a80" stroke-width="1.8" />
<polygon points="399.5,108.6 407.8,112 399.5,115.4" fill="#800a80"/>
<text x="394.80" y="127.80" font-size="14" font-weight="bold" font-style="italic" fill="#800a80" text-anchor="start" >V</text>
<text x="404.00" y="134.00" font-size="9" font-weight="bold" font-style="italic" fill="#800a80" text-anchor="start" >ds</text>
<text x="414.00" y="127.80" font-size="14" font-weight="bold" font-style="normal" fill="#800a80" text-anchor="start" >= 12V</text>
<clipPath id="cc"><rect x="374.0" y="152.4" width="128.5" height="138.9"/></clipPath>
<g clip-path="url(#cc)">
<circle cx="382.90" cy="155.00" r="0.75" fill="#686880" />
<circle cx="382.90" cy="160.20" r="0.75" fill="#686880" />
<circle cx="382.90" cy="165.40" r="0.75" fill="#686880" />
<circle cx="382.90" cy="170.60" r="0.75" fill="#686880" />
<circle cx="382.90" cy="175.80" r="0.75" fill="#686880" />
<circle cx="382.90" cy="181.00" r="0.75" fill="#686880" />
<circle cx="382.90" cy="186.20" r="0.75" fill="#686880" />
<circle cx="382.90" cy="191.40" r="0.75" fill="#686880" />
<circle cx="382.90" cy="196.60" r="0.75" fill="#686880" />
<circle cx="382.90" cy="201.80" r="0.75" fill="#686880" />
<circle cx="382.90" cy="207.00" r="0.75" fill="#686880" />
<circle cx="382.90" cy="212.20" r="0.75" fill="#686880" />
<circle cx="382.90" cy="217.40" r="0.75" fill="#686880" />
<circle cx="382.90" cy="222.60" r="0.75" fill="#686880" />
<circle cx="382.90" cy="227.80" r="0.75" fill="#686880" />
<circle cx="382.90" cy="233.00" r="0.75" fill="#686880" />
<circle cx="382.90" cy="238.20" r="0.75" fill="#686880" />
<circle cx="382.90" cy="243.40" r="0.75" fill="#686880" />
<circle cx="382.90" cy="248.60" r="0.75" fill="#686880" />
<circle cx="382.90" cy="253.80" r="0.75" fill="#686880" />
<circle cx="382.90" cy="259.00" r="0.75" fill="#686880" />
<circle cx="382.90" cy="264.20" r="0.75" fill="#686880" />
<circle cx="382.90" cy="269.40" r="0.75" fill="#686880" />
<circle cx="382.90" cy="274.60" r="0.75" fill="#686880" />
<circle cx="382.90" cy="279.80" r="0.75" fill="#686880" />
<circle cx="382.90" cy="285.00" r="0.75" fill="#686880" />
<circle cx="382.90" cy="290.20" r="0.75" fill="#686880" />
<path d="M374.30,250.00 C374.38,248.00 374.58,242.00 374.80,238.00 C375.02,234.00 375.28,229.83 375.60,226.00 C375.92,222.17 376.27,220.00 376.70,215.00 C377.13,210.00 377.62,201.33 378.20,196.00 C378.78,190.67 379.47,186.67 380.20,183.00 C380.93,179.33 381.88,176.42 382.60,174.00 C383.32,171.58 383.88,170.05 384.50,168.50 C385.12,166.95 385.28,166.37 386.30,164.70 C387.32,163.03 389.37,159.98 390.60,158.50 C391.83,157.02 392.38,157.05 393.70,155.80 C395.02,154.55 397.70,151.80 398.50,151.00" fill="none" stroke="#ff8c1a" stroke-width="2" stroke-linejoin="round" stroke-linecap="round" />
<path d="M374.40,250.00 C374.52,248.33 374.85,243.17 375.10,240.00 C375.35,236.83 375.48,235.17 375.90,231.00 C376.32,226.83 376.95,220.50 377.60,215.00 C378.25,209.50 379.00,202.83 379.80,198.00 C380.60,193.17 381.43,190.12 382.40,186.00 C383.37,181.88 384.37,176.33 385.60,173.30 C386.83,170.27 387.87,169.82 389.80,167.80 C391.73,165.78 394.73,163.52 397.20,161.20 C399.67,158.88 402.80,155.60 404.60,153.90 C406.40,152.20 407.43,151.48 408.00,151.00" fill="none" stroke="#119911" stroke-width="2" stroke-linejoin="round" stroke-linecap="round" />
<path d="M374.50,250.00 C374.63,248.50 374.98,244.00 375.30,241.00 C375.62,238.00 375.87,235.83 376.40,232.00 C376.93,228.17 377.70,223.00 378.50,218.00 C379.30,213.00 380.32,206.33 381.20,202.00 C382.08,197.67 382.82,195.23 383.80,192.00 C384.78,188.77 385.18,185.85 387.10,182.60 C389.02,179.35 392.65,175.35 395.30,172.50 C397.95,169.65 400.42,167.58 403.00,165.50 C405.58,163.42 407.97,161.70 410.80,160.00 C413.63,158.30 417.30,156.80 420.00,155.30 C422.70,153.80 425.83,151.72 427.00,151.00" fill="none" stroke="#ff22ff" stroke-width="2" stroke-linejoin="round" stroke-linecap="round" />
<path d="M374.60,250.00 C374.77,248.67 375.18,244.67 375.60,242.00 C376.02,239.33 376.42,237.67 377.10,234.00 C377.78,230.33 378.78,224.67 379.70,220.00 C380.62,215.33 381.50,210.00 382.60,206.00 C383.70,202.00 384.32,199.52 386.30,196.00 C388.28,192.48 391.72,188.17 394.50,184.90 C397.28,181.63 400.80,178.47 403.00,176.40 C405.20,174.33 404.87,174.45 407.70,172.50 C410.53,170.55 415.45,167.08 420.00,164.70 C424.55,162.32 429.50,160.48 435.00,158.20 C440.50,155.92 450.00,152.20 453.00,151.00" fill="none" stroke="#ee1111" stroke-width="2" stroke-linejoin="round" stroke-linecap="round" />
<path d="M375.20,275.00 C375.32,272.83 375.42,267.00 375.90,262.00 C376.38,257.00 377.25,250.67 378.10,245.00 C378.95,239.33 379.93,232.75 381.00,228.00 C382.07,223.25 383.00,220.25 384.50,216.50 C386.00,212.75 387.42,209.33 390.00,205.50 C392.58,201.67 396.25,197.15 400.00,193.50 C403.75,189.85 406.67,187.12 412.50,183.60 C418.33,180.08 427.08,175.90 435.00,172.40 C442.92,168.90 450.17,166.17 460.00,162.60 C469.83,159.03 488.33,152.93 494.00,151.00" fill="none" stroke="#0000dd" stroke-width="2.4" stroke-linejoin="round" stroke-linecap="round" />
<path d="M375.00,292.00 C375.17,290.00 375.58,283.67 376.00,280.00 C376.42,276.33 376.92,273.33 377.50,270.00 C378.08,266.67 378.83,263.17 379.50,260.00 C380.17,256.83 381.00,253.28 381.50,251.00 C382.00,248.72 381.78,248.17 382.50,246.30 C383.22,244.43 383.05,243.12 385.80,239.80 C388.55,236.48 394.65,230.08 399.00,226.40 C403.35,222.72 407.63,220.60 411.90,217.70 C416.17,214.80 420.27,211.82 424.60,209.00 C428.93,206.18 433.67,203.55 437.90,200.80 C442.13,198.05 445.82,194.63 450.00,192.50 C454.18,190.37 458.67,189.55 463.00,188.00 C467.33,186.45 471.67,184.45 476.00,183.20 C480.33,181.95 484.83,181.40 489.00,180.50 C493.17,179.60 499.00,178.25 501.00,177.80" fill="none" stroke="#000" stroke-width="2" stroke-linejoin="round" stroke-linecap="round" />
<rect x="373.40" y="251.60" width="6" height="6" fill="#fff" stroke="#444" stroke-width="1.1"/>
<rect x="374.50" y="259.90" width="2.2" height="2.2" fill="#fff" />
<rect x="374.70" y="264.40" width="2.2" height="2.2" fill="#fff" />
<rect x="374.90" y="268.90" width="2.2" height="2.2" fill="#fff" />
<rect x="381.60" y="235.60" width="8.4" height="8.4" fill="#fff" stroke="#333" stroke-width="1.3"/>
<rect x="394.80" y="222.20" width="8.4" height="8.4" fill="#fff" stroke="#333" stroke-width="1.3"/>
<rect x="407.70" y="213.50" width="8.4" height="8.4" fill="#fff" stroke="#333" stroke-width="1.3"/>
<rect x="420.40" y="204.80" width="8.4" height="8.4" fill="#fff" stroke="#333" stroke-width="1.3"/>
<rect x="433.70" y="196.60" width="8.4" height="8.4" fill="#fff" stroke="#333" stroke-width="1.3"/>
<rect x="445.80" y="188.30" width="8.4" height="8.4" fill="#fff" stroke="#333" stroke-width="1.3"/>
<rect x="458.80" y="183.80" width="8.4" height="8.4" fill="#fff" stroke="#333" stroke-width="1.3"/>
<rect x="471.80" y="179.00" width="8.4" height="8.4" fill="#fff" stroke="#333" stroke-width="1.3"/>
<rect x="484.80" y="176.30" width="8.4" height="8.4" fill="#fff" stroke="#333" stroke-width="1.3"/>
<rect x="496.80" y="173.60" width="8.4" height="8.4" fill="#fff" stroke="#333" stroke-width="1.3"/>
<polygon points="390.20,155.80 397.20,152.30 397.20,159.30" fill="#ff8000" />
<polygon points="397.20,157.20 401.20,161.20 397.20,165.20 393.20,161.20" fill="#119911" />
<polygon points="406.50,165.50 399.50,162.00 399.50,169.00" fill="#ff00ff" />
<polygon points="403.70,172.80 411.70,168.80 411.70,176.80" fill="#ff0000" />
<circle cx="413.10" cy="183.60" r="3.6" fill="#0000ff" />
<circle cx="382.50" cy="169.10" r="3.6" fill="#cc1c1c" stroke="#000" stroke-width="1.3"/>
<circle cx="382.50" cy="178.40" r="3.6" fill="#cc1c1c" stroke="#000" stroke-width="1.3"/>
<circle cx="382.50" cy="187.80" r="3.6" fill="#cc1c1c" stroke="#000" stroke-width="1.3"/>
<circle cx="382.50" cy="198.00" r="3.6" fill="#cc1c1c" stroke="#000" stroke-width="1.3"/>
<circle cx="382.50" cy="215.60" r="3.6" fill="#cc1c1c" stroke="#000" stroke-width="1.3"/>
<circle cx="382.50" cy="246.30" r="3.6" fill="#cc1c1c" stroke="#000" stroke-width="1.3"/>
</g>
<line x1="374.00" y1="152.40" x2="380.00" y2="152.40" stroke="#000" stroke-width="1.2" />
<line x1="502.50" y1="152.40" x2="496.50" y2="152.40" stroke="#000" stroke-width="1.2" />
<line x1="374.00" y1="176.67" x2="377.50" y2="176.67" stroke="#000" stroke-width="1.2" />
<line x1="502.50" y1="176.67" x2="499.00" y2="176.67" stroke="#000" stroke-width="1.2" />
<line x1="374.00" y1="170.56" x2="377.50" y2="170.56" stroke="#000" stroke-width="1.2" />
<line x1="502.50" y1="170.56" x2="499.00" y2="170.56" stroke="#000" stroke-width="1.2" />
<line x1="374.00" y1="166.22" x2="377.50" y2="166.22" stroke="#000" stroke-width="1.2" />
<line x1="502.50" y1="166.22" x2="499.00" y2="166.22" stroke="#000" stroke-width="1.2" />
<line x1="374.00" y1="162.85" x2="377.50" y2="162.85" stroke="#000" stroke-width="1.2" />
<line x1="502.50" y1="162.85" x2="499.00" y2="162.85" stroke="#000" stroke-width="1.2" />
<line x1="374.00" y1="160.10" x2="377.50" y2="160.10" stroke="#000" stroke-width="1.2" />
<line x1="502.50" y1="160.10" x2="499.00" y2="160.10" stroke="#000" stroke-width="1.2" />
<line x1="374.00" y1="157.78" x2="377.50" y2="157.78" stroke="#000" stroke-width="1.2" />
<line x1="502.50" y1="157.78" x2="499.00" y2="157.78" stroke="#000" stroke-width="1.2" />
<line x1="374.00" y1="155.77" x2="377.50" y2="155.77" stroke="#000" stroke-width="1.2" />
<line x1="502.50" y1="155.77" x2="499.00" y2="155.77" stroke="#000" stroke-width="1.2" />
<line x1="374.00" y1="153.99" x2="377.50" y2="153.99" stroke="#000" stroke-width="1.2" />
<line x1="502.50" y1="153.99" x2="499.00" y2="153.99" stroke="#000" stroke-width="1.2" />
<line x1="374.00" y1="187.12" x2="380.00" y2="187.12" stroke="#000" stroke-width="1.2" />
<line x1="502.50" y1="187.12" x2="496.50" y2="187.12" stroke="#000" stroke-width="1.2" />
<line x1="374.00" y1="211.40" x2="377.50" y2="211.40" stroke="#000" stroke-width="1.2" />
<line x1="502.50" y1="211.40" x2="499.00" y2="211.40" stroke="#000" stroke-width="1.2" />
<line x1="374.00" y1="205.28" x2="377.50" y2="205.28" stroke="#000" stroke-width="1.2" />
<line x1="502.50" y1="205.28" x2="499.00" y2="205.28" stroke="#000" stroke-width="1.2" />
<line x1="374.00" y1="200.94" x2="377.50" y2="200.94" stroke="#000" stroke-width="1.2" />
<line x1="502.50" y1="200.94" x2="499.00" y2="200.94" stroke="#000" stroke-width="1.2" />
<line x1="374.00" y1="197.58" x2="377.50" y2="197.58" stroke="#000" stroke-width="1.2" />
<line x1="502.50" y1="197.58" x2="499.00" y2="197.58" stroke="#000" stroke-width="1.2" />
<line x1="374.00" y1="194.83" x2="377.50" y2="194.83" stroke="#000" stroke-width="1.2" />
<line x1="502.50" y1="194.83" x2="499.00" y2="194.83" stroke="#000" stroke-width="1.2" />
<line x1="374.00" y1="192.50" x2="377.50" y2="192.50" stroke="#000" stroke-width="1.2" />
<line x1="502.50" y1="192.50" x2="499.00" y2="192.50" stroke="#000" stroke-width="1.2" />
<line x1="374.00" y1="190.49" x2="377.50" y2="190.49" stroke="#000" stroke-width="1.2" />
<line x1="502.50" y1="190.49" x2="499.00" y2="190.49" stroke="#000" stroke-width="1.2" />
<line x1="374.00" y1="188.71" x2="377.50" y2="188.71" stroke="#000" stroke-width="1.2" />
<line x1="502.50" y1="188.71" x2="499.00" y2="188.71" stroke="#000" stroke-width="1.2" />
<line x1="374.00" y1="221.85" x2="380.00" y2="221.85" stroke="#000" stroke-width="1.2" />
<line x1="502.50" y1="221.85" x2="496.50" y2="221.85" stroke="#000" stroke-width="1.2" />
<line x1="374.00" y1="246.12" x2="377.50" y2="246.12" stroke="#000" stroke-width="1.2" />
<line x1="502.50" y1="246.12" x2="499.00" y2="246.12" stroke="#000" stroke-width="1.2" />
<line x1="374.00" y1="240.01" x2="377.50" y2="240.01" stroke="#000" stroke-width="1.2" />
<line x1="502.50" y1="240.01" x2="499.00" y2="240.01" stroke="#000" stroke-width="1.2" />
<line x1="374.00" y1="235.67" x2="377.50" y2="235.67" stroke="#000" stroke-width="1.2" />
<line x1="502.50" y1="235.67" x2="499.00" y2="235.67" stroke="#000" stroke-width="1.2" />
<line x1="374.00" y1="232.30" x2="377.50" y2="232.30" stroke="#000" stroke-width="1.2" />
<line x1="502.50" y1="232.30" x2="499.00" y2="232.30" stroke="#000" stroke-width="1.2" />
<line x1="374.00" y1="229.55" x2="377.50" y2="229.55" stroke="#000" stroke-width="1.2" />
<line x1="502.50" y1="229.55" x2="499.00" y2="229.55" stroke="#000" stroke-width="1.2" />
<line x1="374.00" y1="227.23" x2="377.50" y2="227.23" stroke="#000" stroke-width="1.2" />
<line x1="502.50" y1="227.23" x2="499.00" y2="227.23" stroke="#000" stroke-width="1.2" />
<line x1="374.00" y1="225.22" x2="377.50" y2="225.22" stroke="#000" stroke-width="1.2" />
<line x1="502.50" y1="225.22" x2="499.00" y2="225.22" stroke="#000" stroke-width="1.2" />
<line x1="374.00" y1="223.44" x2="377.50" y2="223.44" stroke="#000" stroke-width="1.2" />
<line x1="502.50" y1="223.44" x2="499.00" y2="223.44" stroke="#000" stroke-width="1.2" />
<line x1="374.00" y1="256.58" x2="380.00" y2="256.58" stroke="#000" stroke-width="1.2" />
<line x1="502.50" y1="256.58" x2="496.50" y2="256.58" stroke="#000" stroke-width="1.2" />
<line x1="374.00" y1="280.85" x2="377.50" y2="280.85" stroke="#000" stroke-width="1.2" />
<line x1="502.50" y1="280.85" x2="499.00" y2="280.85" stroke="#000" stroke-width="1.2" />
<line x1="374.00" y1="274.73" x2="377.50" y2="274.73" stroke="#000" stroke-width="1.2" />
<line x1="502.50" y1="274.73" x2="499.00" y2="274.73" stroke="#000" stroke-width="1.2" />
<line x1="374.00" y1="270.39" x2="377.50" y2="270.39" stroke="#000" stroke-width="1.2" />
<line x1="502.50" y1="270.39" x2="499.00" y2="270.39" stroke="#000" stroke-width="1.2" />
<line x1="374.00" y1="267.03" x2="377.50" y2="267.03" stroke="#000" stroke-width="1.2" />
<line x1="502.50" y1="267.03" x2="499.00" y2="267.03" stroke="#000" stroke-width="1.2" />
<line x1="374.00" y1="264.28" x2="377.50" y2="264.28" stroke="#000" stroke-width="1.2" />
<line x1="502.50" y1="264.28" x2="499.00" y2="264.28" stroke="#000" stroke-width="1.2" />
<line x1="374.00" y1="261.95" x2="377.50" y2="261.95" stroke="#000" stroke-width="1.2" />
<line x1="502.50" y1="261.95" x2="499.00" y2="261.95" stroke="#000" stroke-width="1.2" />
<line x1="374.00" y1="259.94" x2="377.50" y2="259.94" stroke="#000" stroke-width="1.2" />
<line x1="502.50" y1="259.94" x2="499.00" y2="259.94" stroke="#000" stroke-width="1.2" />
<line x1="374.00" y1="258.16" x2="377.50" y2="258.16" stroke="#000" stroke-width="1.2" />
<line x1="502.50" y1="258.16" x2="499.00" y2="258.16" stroke="#000" stroke-width="1.2" />
<line x1="374.00" y1="291.30" x2="380.00" y2="291.30" stroke="#000" stroke-width="1.2" />
<line x1="502.50" y1="291.30" x2="496.50" y2="291.30" stroke="#000" stroke-width="1.2" />
<line x1="395.42" y1="291.30" x2="395.42" y2="287.80" stroke="#000" stroke-width="1.2" />
<line x1="395.42" y1="152.40" x2="395.42" y2="155.90" stroke="#000" stroke-width="1.2" />
<line x1="416.83" y1="291.30" x2="416.83" y2="285.30" stroke="#000" stroke-width="1.2" />
<line x1="416.83" y1="152.40" x2="416.83" y2="158.40" stroke="#000" stroke-width="1.2" />
<line x1="438.25" y1="291.30" x2="438.25" y2="287.80" stroke="#000" stroke-width="1.2" />
<line x1="438.25" y1="152.40" x2="438.25" y2="155.90" stroke="#000" stroke-width="1.2" />
<line x1="459.67" y1="291.30" x2="459.67" y2="285.30" stroke="#000" stroke-width="1.2" />
<line x1="459.67" y1="152.40" x2="459.67" y2="158.40" stroke="#000" stroke-width="1.2" />
<line x1="481.08" y1="291.30" x2="481.08" y2="287.80" stroke="#000" stroke-width="1.2" />
<line x1="481.08" y1="152.40" x2="481.08" y2="155.90" stroke="#000" stroke-width="1.2" />
<rect x="374.0" y="152.4" width="128.50" height="138.90" fill="none" stroke="#000" stroke-width="2"/>
<rect x="443.20" y="219.40" width="9.6" height="9.6" fill="#fff" stroke="#333" stroke-width="1.3"/>
<text x="466.40" y="229.90" font-size="15" font-weight="bold" font-style="normal" fill="#000" text-anchor="start" >Exp</text>
<text x="405.00" y="254.60" font-size="19.5" font-weight="bold" font-style="normal" fill="#dc1a24" text-anchor="start" textLength="92" lengthAdjust="spacingAndGlyphs">Sapphire</text>
<text x="390.20" y="211.80" font-size="13" font-weight="bold" font-style="italic" fill="#000" text-anchor="start" >c</text>
<text x="397.50" y="217.60" font-size="8.5" font-weight="normal" font-style="italic" fill="#000" text-anchor="start" >2</text>
<text x="389.60" y="255.20" font-size="13" font-weight="bold" font-style="italic" fill="#000" text-anchor="start" >c</text>
<text x="397.00" y="261.00" font-size="8.5" font-weight="normal" font-style="italic" fill="#000" text-anchor="start" >1</text>
<text x="391.00" y="275.60" font-size="17" font-weight="bold" font-style="italic" fill="#000" text-anchor="start" >V</text>
<text x="401.00" y="283.20" font-size="11" font-weight="bold" font-style="italic" fill="#000" text-anchor="start" >ds</text>
<text x="417.50" y="275.60" font-size="17" font-weight="bold" font-style="normal" fill="#000" text-anchor="start" >[V]</text>
<text x="471.20" y="280.50" font-size="21.5" font-weight="bold" font-style="normal" fill="#000" text-anchor="start" >(c)</text>
<rect x="371.5" y="137.2" width="12.3" height="26.8" fill="#fff"/>
<text x="371.20" y="152.60" font-size="13" font-weight="bold" font-style="italic" fill="#000" text-anchor="start" >c</text>
<text x="379.60" y="158.00" font-size="8.5" font-weight="normal" font-style="italic" fill="#000" text-anchor="start" >6</text>
<text x="369.20" y="22.50" font-size="20.5" font-weight="bold" text-anchor="end">10<tspan font-size="12" font-weight="normal" dy="-13" dx="1">3</tspan></text>
<text x="369.20" y="57.25" font-size="20.5" font-weight="bold" text-anchor="end">10<tspan font-size="12" font-weight="normal" dy="-13" dx="1">2</tspan></text>
<text x="369.20" y="92.00" font-size="20.5" font-weight="bold" text-anchor="end">10<tspan font-size="12" font-weight="normal" dy="-13" dx="1">1</tspan></text>
<text x="369.20" y="126.75" font-size="20.5" font-weight="bold" text-anchor="end">10<tspan font-size="12" font-weight="normal" dy="-13" dx="1">0</tspan></text>
<text x="369.20" y="195.30" font-size="21" font-weight="bold" text-anchor="end">10<tspan font-size="12" font-weight="normal" dy="-13" dx="1">2</tspan></text>
<text x="369.20" y="230.40" font-size="21" font-weight="bold" text-anchor="end">10<tspan font-size="12" font-weight="normal" dy="-13" dx="1">1</tspan></text>
<text x="369.20" y="265.50" font-size="21" font-weight="bold" text-anchor="end">10<tspan font-size="12" font-weight="normal" dy="-13" dx="1">0</tspan></text>
<text x="369.20" y="300.60" font-size="21" font-weight="bold" text-anchor="end">10<tspan font-size="12" font-weight="normal" dy="-13" dx="1">-1</tspan></text>
<text x="373.50" y="316.20" font-size="21" font-weight="bold" font-style="normal" fill="#000" text-anchor="middle" >0</text>
<text x="416.20" y="316.20" font-size="21" font-weight="bold" font-style="normal" fill="#000" text-anchor="middle" >50</text>
<text x="458.80" y="316.20" font-size="21" font-weight="bold" font-style="normal" fill="#000" text-anchor="middle" >100</text>
<text x="502.50" y="316.20" font-size="21" font-weight="bold" font-style="normal" fill="#000" text-anchor="middle" >150</text>
<text transform="translate(327.40,289.20) rotate(-90)" font-size="21.5" font-weight="bold" font-style="normal" fill="#000" textLength="157.08" lengthAdjust="spacingAndGlyphs">Drain Current,</text>
<text transform="translate(326.60,129.10) rotate(-90)" font-size="21.5" font-weight="bold" font-style="italic" fill="#000" textLength="8.40" lengthAdjust="spacingAndGlyphs">I</text>
<text transform="translate(336.10,121.40) rotate(-90)" font-size="11.5" font-weight="bold" font-style="italic" fill="#000" textLength="16.60" lengthAdjust="spacingAndGlyphs">ds</text>
<text transform="translate(327.40,98.90) rotate(-90)" font-size="21.5" font-weight="bold" font-style="normal" fill="#000" textLength="93.04" lengthAdjust="spacingAndGlyphs">[µA/mm]</text>
<clipPath id="cd"><rect x="66.9" y="333.8" width="179.3" height="77.2"/></clipPath>
<g clip-path="url(#cd)">
<path d="M67.00,398.00 C67.50,396.50 68.67,391.67 70.00,389.00 C71.33,386.33 73.00,383.75 75.00,382.00 C77.00,380.25 79.50,379.42 82.00,378.50 C84.50,377.58 87.00,377.08 90.00,376.50 C93.00,375.92 95.00,375.62 100.00,375.00 C105.00,374.38 111.67,373.67 120.00,372.80 C128.33,371.93 140.83,370.80 150.00,369.80 C159.17,368.80 166.67,368.05 175.00,366.80 C183.33,365.55 191.67,363.67 200.00,362.30 C208.33,360.93 217.17,359.72 225.00,358.60 C232.83,357.48 243.33,356.10 247.00,355.60" fill="none" stroke="#e050e0" stroke-width="1.4" stroke-linejoin="round" stroke-linecap="round" />
<polyline points="67.5,395.0 68.5,386.0 76.2,385.5 87.7,385.5 98.1,385.5 109.0,385.5 120.0,385.5 131.6,385.5 142.5,384.3 153.1,384.3 163.8,384.3 175.0,385.0 185.6,382.6 196.9,384.3 208.1,384.6 218.5,384.6 230.5,384.6 241.6,384.6 247.0,384.6" fill="none" stroke="#1a1a80" stroke-width="1.3" stroke-linejoin="round" />
<rect x="73.30" y="382.60" width="5.8" height="5.8" fill="#0a0a70" />
<rect x="84.80" y="382.60" width="5.8" height="5.8" fill="#0a0a70" />
<rect x="95.20" y="382.60" width="5.8" height="5.8" fill="#0a0a70" />
<rect x="106.10" y="382.60" width="5.8" height="5.8" fill="#0a0a70" />
<rect x="117.10" y="382.60" width="5.8" height="5.8" fill="#0a0a70" />
<rect x="128.70" y="382.60" width="5.8" height="5.8" fill="#0a0a70" />
<rect x="139.60" y="381.40" width="5.8" height="5.8" fill="#0a0a70" />
<rect x="150.20" y="381.40" width="5.8" height="5.8" fill="#0a0a70" />
<rect x="160.85" y="381.40" width="5.8" height="5.8" fill="#0a0a70" />
<rect x="172.10" y="382.10" width="5.8" height="5.8" fill="#0a0a70" />
<rect x="182.70" y="379.70" width="5.8" height="5.8" fill="#0a0a70" />
<rect x="194.00" y="381.40" width="5.8" height="5.8" fill="#0a0a70" />
<rect x="205.20" y="381.70" width="5.8" height="5.8" fill="#0a0a70" />
<rect x="215.60" y="381.70" width="5.8" height="5.8" fill="#0a0a70" />
<rect x="227.60" y="381.70" width="5.8" height="5.8" fill="#0a0a70" />
<rect x="238.70" y="381.70" width="5.8" height="5.8" fill="#0a0a70" />
<polyline points="67.5,392.0 69.5,380.0 71.5,374.0 74.4,371.9 83.8,369.4 93.1,374.4 102.5,374.4 111.9,370.0 121.2,368.8 129.3,368.2 138.5,367.3 148.1,366.1 156.9,366.8 166.2,366.1 175.6,364.9 184.4,363.6 193.8,362.4 202.5,360.6 211.9,360.0 221.2,359.0 230.0,358.1 239.4,357.5 247.0,357.0" fill="none" stroke="#3a3aa0" stroke-width="1" stroke-linejoin="round" />
<circle cx="74.40" cy="371.90" r="2.9" fill="none" stroke="#4a3aa0" stroke-width="1.1"/>
<circle cx="83.75" cy="369.40" r="2.9" fill="none" stroke="#4a3aa0" stroke-width="1.1"/>
<circle cx="93.10" cy="374.40" r="2.9" fill="none" stroke="#4a3aa0" stroke-width="1.1"/>
<circle cx="102.50" cy="374.40" r="2.9" fill="none" stroke="#4a3aa0" stroke-width="1.1"/>
<circle cx="111.90" cy="370.00" r="2.9" fill="none" stroke="#4a3aa0" stroke-width="1.1"/>
<circle cx="121.25" cy="368.75" r="2.9" fill="none" stroke="#4a3aa0" stroke-width="1.1"/>
<circle cx="129.30" cy="368.20" r="2.9" fill="none" stroke="#4a3aa0" stroke-width="1.1"/>
<circle cx="138.50" cy="367.30" r="2.9" fill="none" stroke="#4a3aa0" stroke-width="1.1"/>
<circle cx="148.10" cy="366.10" r="2.9" fill="none" stroke="#4a3aa0" stroke-width="1.1"/>
<circle cx="156.90" cy="366.75" r="2.9" fill="none" stroke="#4a3aa0" stroke-width="1.1"/>
<circle cx="166.25" cy="366.10" r="2.9" fill="none" stroke="#4a3aa0" stroke-width="1.1"/>
<circle cx="175.60" cy="364.90" r="2.9" fill="none" stroke="#4a3aa0" stroke-width="1.1"/>
<circle cx="184.40" cy="363.60" r="2.9" fill="none" stroke="#4a3aa0" stroke-width="1.1"/>
<circle cx="193.75" cy="362.40" r="2.9" fill="none" stroke="#4a3aa0" stroke-width="1.1"/>
<circle cx="202.50" cy="360.60" r="2.9" fill="none" stroke="#4a3aa0" stroke-width="1.1"/>
<circle cx="211.90" cy="360.00" r="2.9" fill="none" stroke="#4a3aa0" stroke-width="1.1"/>
<circle cx="221.25" cy="359.00" r="2.9" fill="none" stroke="#4a3aa0" stroke-width="1.1"/>
<circle cx="230.00" cy="358.10" r="2.9" fill="none" stroke="#4a3aa0" stroke-width="1.1"/>
<circle cx="239.40" cy="357.50" r="2.9" fill="none" stroke="#4a3aa0" stroke-width="1.1"/>
</g>
<line x1="66.90" y1="333.75" x2="71.40" y2="333.75" stroke="#000" stroke-width="1" />
<line x1="246.25" y1="333.75" x2="241.75" y2="333.75" stroke="#000" stroke-width="1" />
<line x1="66.90" y1="342.75" x2="69.40" y2="342.75" stroke="#000" stroke-width="1" />
<line x1="246.25" y1="342.75" x2="243.75" y2="342.75" stroke="#000" stroke-width="1" />
<line x1="66.90" y1="340.48" x2="69.40" y2="340.48" stroke="#000" stroke-width="1" />
<line x1="246.25" y1="340.48" x2="243.75" y2="340.48" stroke="#000" stroke-width="1" />
<line x1="66.90" y1="338.87" x2="69.40" y2="338.87" stroke="#000" stroke-width="1" />
<line x1="246.25" y1="338.87" x2="243.75" y2="338.87" stroke="#000" stroke-width="1" />
<line x1="66.90" y1="337.63" x2="69.40" y2="337.63" stroke="#000" stroke-width="1" />
<line x1="246.25" y1="337.63" x2="243.75" y2="337.63" stroke="#000" stroke-width="1" />
<line x1="66.90" y1="336.61" x2="69.40" y2="336.61" stroke="#000" stroke-width="1" />
<line x1="246.25" y1="336.61" x2="243.75" y2="336.61" stroke="#000" stroke-width="1" />
<line x1="66.90" y1="335.74" x2="69.40" y2="335.74" stroke="#000" stroke-width="1" />
<line x1="246.25" y1="335.74" x2="243.75" y2="335.74" stroke="#000" stroke-width="1" />
<line x1="66.90" y1="335.00" x2="69.40" y2="335.00" stroke="#000" stroke-width="1" />
<line x1="246.25" y1="335.00" x2="243.75" y2="335.00" stroke="#000" stroke-width="1" />
<line x1="66.90" y1="334.34" x2="69.40" y2="334.34" stroke="#000" stroke-width="1" />
<line x1="246.25" y1="334.34" x2="243.75" y2="334.34" stroke="#000" stroke-width="1" />
<line x1="66.90" y1="346.62" x2="71.40" y2="346.62" stroke="#000" stroke-width="1" />
<line x1="246.25" y1="346.62" x2="241.75" y2="346.62" stroke="#000" stroke-width="1" />
<line x1="66.90" y1="355.62" x2="69.40" y2="355.62" stroke="#000" stroke-width="1" />
<line x1="246.25" y1="355.62" x2="243.75" y2="355.62" stroke="#000" stroke-width="1" />
<line x1="66.90" y1="353.36" x2="69.40" y2="353.36" stroke="#000" stroke-width="1" />
<line x1="246.25" y1="353.36" x2="243.75" y2="353.36" stroke="#000" stroke-width="1" />
<line x1="66.90" y1="351.75" x2="69.40" y2="351.75" stroke="#000" stroke-width="1" />
<line x1="246.25" y1="351.75" x2="243.75" y2="351.75" stroke="#000" stroke-width="1" />
<line x1="66.90" y1="350.50" x2="69.40" y2="350.50" stroke="#000" stroke-width="1" />
<line x1="246.25" y1="350.50" x2="243.75" y2="350.50" stroke="#000" stroke-width="1" />
<line x1="66.90" y1="349.48" x2="69.40" y2="349.48" stroke="#000" stroke-width="1" />
<line x1="246.25" y1="349.48" x2="243.75" y2="349.48" stroke="#000" stroke-width="1" />
<line x1="66.90" y1="348.62" x2="69.40" y2="348.62" stroke="#000" stroke-width="1" />
<line x1="246.25" y1="348.62" x2="243.75" y2="348.62" stroke="#000" stroke-width="1" />
<line x1="66.90" y1="347.87" x2="69.40" y2="347.87" stroke="#000" stroke-width="1" />
<line x1="246.25" y1="347.87" x2="243.75" y2="347.87" stroke="#000" stroke-width="1" />
<line x1="66.90" y1="347.21" x2="69.40" y2="347.21" stroke="#000" stroke-width="1" />
<line x1="246.25" y1="347.21" x2="243.75" y2="347.21" stroke="#000" stroke-width="1" />
<line x1="66.90" y1="359.50" x2="71.40" y2="359.50" stroke="#000" stroke-width="1" />
<line x1="246.25" y1="359.50" x2="241.75" y2="359.50" stroke="#000" stroke-width="1" />
<line x1="66.90" y1="368.50" x2="69.40" y2="368.50" stroke="#000" stroke-width="1" />
<line x1="246.25" y1="368.50" x2="243.75" y2="368.50" stroke="#000" stroke-width="1" />
<line x1="66.90" y1="366.23" x2="69.40" y2="366.23" stroke="#000" stroke-width="1" />
<line x1="246.25" y1="366.23" x2="243.75" y2="366.23" stroke="#000" stroke-width="1" />
<line x1="66.90" y1="364.62" x2="69.40" y2="364.62" stroke="#000" stroke-width="1" />
<line x1="246.25" y1="364.62" x2="243.75" y2="364.62" stroke="#000" stroke-width="1" />
<line x1="66.90" y1="363.38" x2="69.40" y2="363.38" stroke="#000" stroke-width="1" />
<line x1="246.25" y1="363.38" x2="243.75" y2="363.38" stroke="#000" stroke-width="1" />
<line x1="66.90" y1="362.36" x2="69.40" y2="362.36" stroke="#000" stroke-width="1" />
<line x1="246.25" y1="362.36" x2="243.75" y2="362.36" stroke="#000" stroke-width="1" />
<line x1="66.90" y1="361.49" x2="69.40" y2="361.49" stroke="#000" stroke-width="1" />
<line x1="246.25" y1="361.49" x2="243.75" y2="361.49" stroke="#000" stroke-width="1" />
<line x1="66.90" y1="360.75" x2="69.40" y2="360.75" stroke="#000" stroke-width="1" />
<line x1="246.25" y1="360.75" x2="243.75" y2="360.75" stroke="#000" stroke-width="1" />
<line x1="66.90" y1="360.09" x2="69.40" y2="360.09" stroke="#000" stroke-width="1" />
<line x1="246.25" y1="360.09" x2="243.75" y2="360.09" stroke="#000" stroke-width="1" />
<line x1="66.90" y1="372.38" x2="71.40" y2="372.38" stroke="#000" stroke-width="1" />
<line x1="246.25" y1="372.38" x2="241.75" y2="372.38" stroke="#000" stroke-width="1" />
<line x1="66.90" y1="381.37" x2="69.40" y2="381.37" stroke="#000" stroke-width="1" />
<line x1="246.25" y1="381.37" x2="243.75" y2="381.37" stroke="#000" stroke-width="1" />
<line x1="66.90" y1="379.11" x2="69.40" y2="379.11" stroke="#000" stroke-width="1" />
<line x1="246.25" y1="379.11" x2="243.75" y2="379.11" stroke="#000" stroke-width="1" />
<line x1="66.90" y1="377.50" x2="69.40" y2="377.50" stroke="#000" stroke-width="1" />
<line x1="246.25" y1="377.50" x2="243.75" y2="377.50" stroke="#000" stroke-width="1" />
<line x1="66.90" y1="376.25" x2="69.40" y2="376.25" stroke="#000" stroke-width="1" />
<line x1="246.25" y1="376.25" x2="243.75" y2="376.25" stroke="#000" stroke-width="1" />
<line x1="66.90" y1="375.23" x2="69.40" y2="375.23" stroke="#000" stroke-width="1" />
<line x1="246.25" y1="375.23" x2="243.75" y2="375.23" stroke="#000" stroke-width="1" />
<line x1="66.90" y1="374.37" x2="69.40" y2="374.37" stroke="#000" stroke-width="1" />
<line x1="246.25" y1="374.37" x2="243.75" y2="374.37" stroke="#000" stroke-width="1" />
<line x1="66.90" y1="373.62" x2="69.40" y2="373.62" stroke="#000" stroke-width="1" />
<line x1="246.25" y1="373.62" x2="243.75" y2="373.62" stroke="#000" stroke-width="1" />
<line x1="66.90" y1="372.96" x2="69.40" y2="372.96" stroke="#000" stroke-width="1" />
<line x1="246.25" y1="372.96" x2="243.75" y2="372.96" stroke="#000" stroke-width="1" />
<line x1="66.90" y1="385.25" x2="71.40" y2="385.25" stroke="#000" stroke-width="1" />
<line x1="246.25" y1="385.25" x2="241.75" y2="385.25" stroke="#000" stroke-width="1" />
<line x1="66.90" y1="394.25" x2="69.40" y2="394.25" stroke="#000" stroke-width="1" />
<line x1="246.25" y1="394.25" x2="243.75" y2="394.25" stroke="#000" stroke-width="1" />
<line x1="66.90" y1="391.98" x2="69.40" y2="391.98" stroke="#000" stroke-width="1" />
<line x1="246.25" y1="391.98" x2="243.75" y2="391.98" stroke="#000" stroke-width="1" />
<line x1="66.90" y1="390.37" x2="69.40" y2="390.37" stroke="#000" stroke-width="1" />
<line x1="246.25" y1="390.37" x2="243.75" y2="390.37" stroke="#000" stroke-width="1" />
<line x1="66.90" y1="389.13" x2="69.40" y2="389.13" stroke="#000" stroke-width="1" />
<line x1="246.25" y1="389.13" x2="243.75" y2="389.13" stroke="#000" stroke-width="1" />
<line x1="66.90" y1="388.11" x2="69.40" y2="388.11" stroke="#000" stroke-width="1" />
<line x1="246.25" y1="388.11" x2="243.75" y2="388.11" stroke="#000" stroke-width="1" />
<line x1="66.90" y1="387.24" x2="69.40" y2="387.24" stroke="#000" stroke-width="1" />
<line x1="246.25" y1="387.24" x2="243.75" y2="387.24" stroke="#000" stroke-width="1" />
<line x1="66.90" y1="386.50" x2="69.40" y2="386.50" stroke="#000" stroke-width="1" />
<line x1="246.25" y1="386.50" x2="243.75" y2="386.50" stroke="#000" stroke-width="1" />
<line x1="66.90" y1="385.84" x2="69.40" y2="385.84" stroke="#000" stroke-width="1" />
<line x1="246.25" y1="385.84" x2="243.75" y2="385.84" stroke="#000" stroke-width="1" />
<line x1="66.90" y1="398.12" x2="71.40" y2="398.12" stroke="#000" stroke-width="1" />
<line x1="246.25" y1="398.12" x2="241.75" y2="398.12" stroke="#000" stroke-width="1" />
<line x1="66.90" y1="407.12" x2="69.40" y2="407.12" stroke="#000" stroke-width="1" />
<line x1="246.25" y1="407.12" x2="243.75" y2="407.12" stroke="#000" stroke-width="1" />
<line x1="66.90" y1="404.86" x2="69.40" y2="404.86" stroke="#000" stroke-width="1" />
<line x1="246.25" y1="404.86" x2="243.75" y2="404.86" stroke="#000" stroke-width="1" />
<line x1="66.90" y1="403.25" x2="69.40" y2="403.25" stroke="#000" stroke-width="1" />
<line x1="246.25" y1="403.25" x2="243.75" y2="403.25" stroke="#000" stroke-width="1" />
<line x1="66.90" y1="402.00" x2="69.40" y2="402.00" stroke="#000" stroke-width="1" />
<line x1="246.25" y1="402.00" x2="243.75" y2="402.00" stroke="#000" stroke-width="1" />
<line x1="66.90" y1="400.98" x2="69.40" y2="400.98" stroke="#000" stroke-width="1" />
<line x1="246.25" y1="400.98" x2="243.75" y2="400.98" stroke="#000" stroke-width="1" />
<line x1="66.90" y1="400.12" x2="69.40" y2="400.12" stroke="#000" stroke-width="1" />
<line x1="246.25" y1="400.12" x2="243.75" y2="400.12" stroke="#000" stroke-width="1" />
<line x1="66.90" y1="399.37" x2="69.40" y2="399.37" stroke="#000" stroke-width="1" />
<line x1="246.25" y1="399.37" x2="243.75" y2="399.37" stroke="#000" stroke-width="1" />
<line x1="66.90" y1="398.71" x2="69.40" y2="398.71" stroke="#000" stroke-width="1" />
<line x1="246.25" y1="398.71" x2="243.75" y2="398.71" stroke="#000" stroke-width="1" />
<line x1="66.90" y1="411.00" x2="71.40" y2="411.00" stroke="#000" stroke-width="1" />
<line x1="246.25" y1="411.00" x2="241.75" y2="411.00" stroke="#000" stroke-width="1" />
<line x1="96.79" y1="411.00" x2="96.79" y2="407.50" stroke="#000" stroke-width="1.2" />
<line x1="96.79" y1="333.75" x2="96.79" y2="337.25" stroke="#000" stroke-width="1.2" />
<line x1="126.68" y1="411.00" x2="126.68" y2="405.50" stroke="#000" stroke-width="1.2" />
<line x1="126.68" y1="333.75" x2="126.68" y2="339.25" stroke="#000" stroke-width="1.2" />
<line x1="156.57" y1="411.00" x2="156.57" y2="407.50" stroke="#000" stroke-width="1.2" />
<line x1="156.57" y1="333.75" x2="156.57" y2="337.25" stroke="#000" stroke-width="1.2" />
<line x1="186.47" y1="411.00" x2="186.47" y2="405.50" stroke="#000" stroke-width="1.2" />
<line x1="186.47" y1="333.75" x2="186.47" y2="339.25" stroke="#000" stroke-width="1.2" />
<line x1="216.36" y1="411.00" x2="216.36" y2="407.50" stroke="#000" stroke-width="1.2" />
<line x1="216.36" y1="333.75" x2="216.36" y2="337.25" stroke="#000" stroke-width="1.2" />
<rect x="66.9" y="333.75" width="179.35" height="77.25" fill="none" stroke="#000" stroke-width="2"/>
<text x="71.60" y="353.60" font-size="15" font-weight="bold" font-style="normal" fill="#000" text-anchor="start" textLength="66.5" lengthAdjust="spacingAndGlyphs">[µA/mm]</text>
<line x1="148.10" y1="342.00" x2="176.25" y2="342.00" stroke="#4a3a8a" stroke-width="1.2" />
<circle cx="161.90" cy="342.00" r="4.7" fill="#fff" stroke="#4a3a8a" stroke-width="1.2"/>
<text x="179.00" y="346.30" font-size="12" font-weight="bold" font-style="italic" fill="#000" text-anchor="start" >I</text>
<text x="183.20" y="351.30" font-size="8" font-weight="bold" font-style="italic" fill="#000" text-anchor="start" >ds</text>
<line x1="196.90" y1="343.10" x2="224.40" y2="343.10" stroke="#2a2a90" stroke-width="1.2" />
<rect x="205.40" y="338.50" width="9.2" height="9.2" fill="#0a0a70" />
<text x="229.40" y="346.60" font-size="12" font-weight="bold" font-style="italic" fill="#000" text-anchor="start" >I</text>
<text x="230.40" y="352.60" font-size="8" font-weight="bold" font-style="italic" fill="#000" text-anchor="start" >gs</text>
<line x1="190.00" y1="368.70" x2="221.30" y2="368.70" stroke="#f070f0" stroke-width="2" />
<text x="224.80" y="373.20" font-size="12" font-weight="bold" font-style="italic" fill="#000" text-anchor="start" >I</text>
<text x="228.80" y="379.40" font-size="8" font-weight="bold" font-style="italic" fill="#000" text-anchor="start" >db</text>
<text x="73.80" y="405.00" font-size="19.5" font-weight="bold" font-style="normal" fill="#000080" text-anchor="start" >Si</text>
<text x="213.00" y="404.60" font-size="19" font-weight="bold" font-style="normal" fill="#000" text-anchor="start" >(d)</text>
<text x="61.80" y="343.30" font-size="20" font-weight="bold" text-anchor="end">10<tspan font-size="12.5" font-weight="normal" dy="-10" dx="1">4</tspan></text>
<text x="61.80" y="381.90" font-size="20" font-weight="bold" text-anchor="end">10<tspan font-size="12.5" font-weight="normal" dy="-10" dx="1">1</tspan></text>
<text x="61.30" y="421.30" font-size="20" font-weight="bold" text-anchor="end">10<tspan font-size="12.5" font-weight="normal" dy="-10" dx="1">-2</tspan></text>
<text x="66.30" y="431.90" font-size="21" font-weight="bold" font-style="normal" fill="#000" text-anchor="middle" >0</text>
<text x="126.30" y="431.90" font-size="21" font-weight="bold" font-style="normal" fill="#000" text-anchor="middle" >50</text>
<text x="186.60" y="431.90" font-size="21" font-weight="bold" font-style="normal" fill="#000" text-anchor="middle" >100</text>
<text x="246.90" y="431.90" font-size="21" font-weight="bold" font-style="normal" fill="#000" text-anchor="middle" >150</text>
<text transform="translate(13.6,403) rotate(-90)" font-size="17" font-weight="bold" font-style="italic" fill="#000" textLength="57.5" lengthAdjust="spacingAndGlyphs">I<tspan font-size="11.5" dy="8">ds</tspan><tspan dy="-8"> , I</tspan><tspan font-size="11.5" dy="8">gs</tspan></text>
<clipPath id="ce"><rect x="323.8" y="333.8" width="179.6" height="77.1"/></clipPath>
<g clip-path="url(#ce)">
<polyline points="324.0,384.0 326.5,381.5 331.2,379.5 341.2,377.5 350.0,375.0 358.8,373.0 367.5,371.2 377.0,370.0 386.2,368.0 395.0,367.0 403.8,365.0 413.0,363.8 422.0,363.5 431.3,361.2 440.0,360.9 448.7,360.2 457.9,359.4 467.5,357.8 476.4,358.2 485.6,357.8 493.8,356.8 502.0,357.2" fill="none" stroke="#ee1111" stroke-width="2.2" stroke-linejoin="round" />
<circle cx="332.75" cy="381.00" r="2.8" fill="#fff" stroke="#ee2222" stroke-width="1.1"/>
<circle cx="342.75" cy="379.00" r="2.8" fill="#fff" stroke="#ee2222" stroke-width="1.1"/>
<circle cx="351.50" cy="376.50" r="2.8" fill="#fff" stroke="#ee2222" stroke-width="1.1"/>
<circle cx="360.25" cy="374.50" r="2.8" fill="#fff" stroke="#ee2222" stroke-width="1.1"/>
<circle cx="369.00" cy="372.75" r="2.8" fill="#fff" stroke="#ee2222" stroke-width="1.1"/>
<circle cx="378.50" cy="371.50" r="2.8" fill="#fff" stroke="#ee2222" stroke-width="1.1"/>
<circle cx="387.75" cy="369.50" r="2.8" fill="#fff" stroke="#ee2222" stroke-width="1.1"/>
<circle cx="396.50" cy="368.50" r="2.8" fill="#fff" stroke="#ee2222" stroke-width="1.1"/>
<circle cx="405.25" cy="366.50" r="2.8" fill="#fff" stroke="#ee2222" stroke-width="1.1"/>
<circle cx="414.50" cy="365.25" r="2.8" fill="#fff" stroke="#ee2222" stroke-width="1.1"/>
<circle cx="423.50" cy="365.00" r="2.8" fill="#fff" stroke="#ee2222" stroke-width="1.1"/>
<circle cx="432.80" cy="362.70" r="2.8" fill="#fff" stroke="#ee2222" stroke-width="1.1"/>
<circle cx="441.50" cy="362.40" r="2.8" fill="#fff" stroke="#ee2222" stroke-width="1.1"/>
<circle cx="450.20" cy="361.70" r="2.8" fill="#fff" stroke="#ee2222" stroke-width="1.1"/>
<circle cx="459.40" cy="360.90" r="2.8" fill="#fff" stroke="#ee2222" stroke-width="1.1"/>
<circle cx="469.00" cy="359.30" r="2.8" fill="#fff" stroke="#ee2222" stroke-width="1.1"/>
<circle cx="477.90" cy="359.70" r="2.8" fill="#fff" stroke="#ee2222" stroke-width="1.1"/>
<circle cx="487.10" cy="359.30" r="2.8" fill="#fff" stroke="#ee2222" stroke-width="1.1"/>
<circle cx="495.30" cy="358.30" r="2.8" fill="#fff" stroke="#ee2222" stroke-width="1.1"/>
<circle cx="503.50" cy="358.70" r="2.8" fill="#fff" stroke="#ee2222" stroke-width="1.1"/>
<rect x="328.45" y="376.70" width="5.6" height="5.6" fill="#ee1111" />
<rect x="338.45" y="374.70" width="5.6" height="5.6" fill="#ee1111" />
<rect x="347.20" y="372.20" width="5.6" height="5.6" fill="#ee1111" />
<rect x="355.95" y="370.20" width="5.6" height="5.6" fill="#ee1111" />
<rect x="364.70" y="368.45" width="5.6" height="5.6" fill="#ee1111" />
<rect x="374.20" y="367.20" width="5.6" height="5.6" fill="#ee1111" />
<rect x="383.45" y="365.20" width="5.6" height="5.6" fill="#ee1111" />
<rect x="392.20" y="364.20" width="5.6" height="5.6" fill="#ee1111" />
<rect x="400.95" y="362.20" width="5.6" height="5.6" fill="#ee1111" />
<rect x="410.20" y="360.95" width="5.6" height="5.6" fill="#ee1111" />
<rect x="419.20" y="360.70" width="5.6" height="5.6" fill="#ee1111" />
<rect x="428.50" y="358.40" width="5.6" height="5.6" fill="#ee1111" />
<rect x="437.20" y="358.10" width="5.6" height="5.6" fill="#ee1111" />
<rect x="445.90" y="357.40" width="5.6" height="5.6" fill="#ee1111" />
<rect x="455.10" y="356.60" width="5.6" height="5.6" fill="#ee1111" />
<rect x="464.70" y="355.00" width="5.6" height="5.6" fill="#ee1111" />
<rect x="473.60" y="355.40" width="5.6" height="5.6" fill="#ee1111" />
<rect x="482.80" y="355.00" width="5.6" height="5.6" fill="#ee1111" />
<rect x="491.00" y="354.00" width="5.6" height="5.6" fill="#ee1111" />
<rect x="499.20" y="354.40" width="5.6" height="5.6" fill="#ee1111" />
</g>
<line x1="323.80" y1="333.75" x2="328.30" y2="333.75" stroke="#000" stroke-width="1" />
<line x1="503.40" y1="333.75" x2="498.90" y2="333.75" stroke="#000" stroke-width="1" />
<line x1="323.80" y1="342.73" x2="326.30" y2="342.73" stroke="#000" stroke-width="1" />
<line x1="503.40" y1="342.73" x2="500.90" y2="342.73" stroke="#000" stroke-width="1" />
<line x1="323.80" y1="340.46" x2="326.30" y2="340.46" stroke="#000" stroke-width="1" />
<line x1="503.40" y1="340.46" x2="500.90" y2="340.46" stroke="#000" stroke-width="1" />
<line x1="323.80" y1="338.86" x2="326.30" y2="338.86" stroke="#000" stroke-width="1" />
<line x1="503.40" y1="338.86" x2="500.90" y2="338.86" stroke="#000" stroke-width="1" />
<line x1="323.80" y1="337.62" x2="326.30" y2="337.62" stroke="#000" stroke-width="1" />
<line x1="503.40" y1="337.62" x2="500.90" y2="337.62" stroke="#000" stroke-width="1" />
<line x1="323.80" y1="336.60" x2="326.30" y2="336.60" stroke="#000" stroke-width="1" />
<line x1="503.40" y1="336.60" x2="500.90" y2="336.60" stroke="#000" stroke-width="1" />
<line x1="323.80" y1="335.74" x2="326.30" y2="335.74" stroke="#000" stroke-width="1" />
<line x1="503.40" y1="335.74" x2="500.90" y2="335.74" stroke="#000" stroke-width="1" />
<line x1="323.80" y1="334.99" x2="326.30" y2="334.99" stroke="#000" stroke-width="1" />
<line x1="503.40" y1="334.99" x2="500.90" y2="334.99" stroke="#000" stroke-width="1" />
<line x1="323.80" y1="334.34" x2="326.30" y2="334.34" stroke="#000" stroke-width="1" />
<line x1="503.40" y1="334.34" x2="500.90" y2="334.34" stroke="#000" stroke-width="1" />
<line x1="323.80" y1="346.59" x2="328.30" y2="346.59" stroke="#000" stroke-width="1" />
<line x1="503.40" y1="346.59" x2="498.90" y2="346.59" stroke="#000" stroke-width="1" />
<line x1="323.80" y1="355.57" x2="326.30" y2="355.57" stroke="#000" stroke-width="1" />
<line x1="503.40" y1="355.57" x2="500.90" y2="355.57" stroke="#000" stroke-width="1" />
<line x1="323.80" y1="353.31" x2="326.30" y2="353.31" stroke="#000" stroke-width="1" />
<line x1="503.40" y1="353.31" x2="500.90" y2="353.31" stroke="#000" stroke-width="1" />
<line x1="323.80" y1="351.70" x2="326.30" y2="351.70" stroke="#000" stroke-width="1" />
<line x1="503.40" y1="351.70" x2="500.90" y2="351.70" stroke="#000" stroke-width="1" />
<line x1="323.80" y1="350.46" x2="326.30" y2="350.46" stroke="#000" stroke-width="1" />
<line x1="503.40" y1="350.46" x2="500.90" y2="350.46" stroke="#000" stroke-width="1" />
<line x1="323.80" y1="349.44" x2="326.30" y2="349.44" stroke="#000" stroke-width="1" />
<line x1="503.40" y1="349.44" x2="500.90" y2="349.44" stroke="#000" stroke-width="1" />
<line x1="323.80" y1="348.58" x2="326.30" y2="348.58" stroke="#000" stroke-width="1" />
<line x1="503.40" y1="348.58" x2="500.90" y2="348.58" stroke="#000" stroke-width="1" />
<line x1="323.80" y1="347.84" x2="326.30" y2="347.84" stroke="#000" stroke-width="1" />
<line x1="503.40" y1="347.84" x2="500.90" y2="347.84" stroke="#000" stroke-width="1" />
<line x1="323.80" y1="347.18" x2="326.30" y2="347.18" stroke="#000" stroke-width="1" />
<line x1="503.40" y1="347.18" x2="500.90" y2="347.18" stroke="#000" stroke-width="1" />
<line x1="323.80" y1="359.43" x2="328.30" y2="359.43" stroke="#000" stroke-width="1" />
<line x1="503.40" y1="359.43" x2="498.90" y2="359.43" stroke="#000" stroke-width="1" />
<line x1="323.80" y1="368.41" x2="326.30" y2="368.41" stroke="#000" stroke-width="1" />
<line x1="503.40" y1="368.41" x2="500.90" y2="368.41" stroke="#000" stroke-width="1" />
<line x1="323.80" y1="366.15" x2="326.30" y2="366.15" stroke="#000" stroke-width="1" />
<line x1="503.40" y1="366.15" x2="500.90" y2="366.15" stroke="#000" stroke-width="1" />
<line x1="323.80" y1="364.54" x2="326.30" y2="364.54" stroke="#000" stroke-width="1" />
<line x1="503.40" y1="364.54" x2="500.90" y2="364.54" stroke="#000" stroke-width="1" />
<line x1="323.80" y1="363.30" x2="326.30" y2="363.30" stroke="#000" stroke-width="1" />
<line x1="503.40" y1="363.30" x2="500.90" y2="363.30" stroke="#000" stroke-width="1" />
<line x1="323.80" y1="362.28" x2="326.30" y2="362.28" stroke="#000" stroke-width="1" />
<line x1="503.40" y1="362.28" x2="500.90" y2="362.28" stroke="#000" stroke-width="1" />
<line x1="323.80" y1="361.42" x2="326.30" y2="361.42" stroke="#000" stroke-width="1" />
<line x1="503.40" y1="361.42" x2="500.90" y2="361.42" stroke="#000" stroke-width="1" />
<line x1="323.80" y1="360.68" x2="326.30" y2="360.68" stroke="#000" stroke-width="1" />
<line x1="503.40" y1="360.68" x2="500.90" y2="360.68" stroke="#000" stroke-width="1" />
<line x1="323.80" y1="360.02" x2="326.30" y2="360.02" stroke="#000" stroke-width="1" />
<line x1="503.40" y1="360.02" x2="500.90" y2="360.02" stroke="#000" stroke-width="1" />
<line x1="323.80" y1="372.27" x2="328.30" y2="372.27" stroke="#000" stroke-width="1" />
<line x1="503.40" y1="372.27" x2="498.90" y2="372.27" stroke="#000" stroke-width="1" />
<line x1="323.80" y1="381.25" x2="326.30" y2="381.25" stroke="#000" stroke-width="1" />
<line x1="503.40" y1="381.25" x2="500.90" y2="381.25" stroke="#000" stroke-width="1" />
<line x1="323.80" y1="378.99" x2="326.30" y2="378.99" stroke="#000" stroke-width="1" />
<line x1="503.40" y1="378.99" x2="500.90" y2="378.99" stroke="#000" stroke-width="1" />
<line x1="323.80" y1="377.39" x2="326.30" y2="377.39" stroke="#000" stroke-width="1" />
<line x1="503.40" y1="377.39" x2="500.90" y2="377.39" stroke="#000" stroke-width="1" />
<line x1="323.80" y1="376.14" x2="326.30" y2="376.14" stroke="#000" stroke-width="1" />
<line x1="503.40" y1="376.14" x2="500.90" y2="376.14" stroke="#000" stroke-width="1" />
<line x1="323.80" y1="375.12" x2="326.30" y2="375.12" stroke="#000" stroke-width="1" />
<line x1="503.40" y1="375.12" x2="500.90" y2="375.12" stroke="#000" stroke-width="1" />
<line x1="323.80" y1="374.26" x2="326.30" y2="374.26" stroke="#000" stroke-width="1" />
<line x1="503.40" y1="374.26" x2="500.90" y2="374.26" stroke="#000" stroke-width="1" />
<line x1="323.80" y1="373.52" x2="326.30" y2="373.52" stroke="#000" stroke-width="1" />
<line x1="503.40" y1="373.52" x2="500.90" y2="373.52" stroke="#000" stroke-width="1" />
<line x1="323.80" y1="372.86" x2="326.30" y2="372.86" stroke="#000" stroke-width="1" />
<line x1="503.40" y1="372.86" x2="500.90" y2="372.86" stroke="#000" stroke-width="1" />
<line x1="323.80" y1="385.12" x2="328.30" y2="385.12" stroke="#000" stroke-width="1" />
<line x1="503.40" y1="385.12" x2="498.90" y2="385.12" stroke="#000" stroke-width="1" />
<line x1="323.80" y1="394.09" x2="326.30" y2="394.09" stroke="#000" stroke-width="1" />
<line x1="503.40" y1="394.09" x2="500.90" y2="394.09" stroke="#000" stroke-width="1" />
<line x1="323.80" y1="391.83" x2="326.30" y2="391.83" stroke="#000" stroke-width="1" />
<line x1="503.40" y1="391.83" x2="500.90" y2="391.83" stroke="#000" stroke-width="1" />
<line x1="323.80" y1="390.23" x2="326.30" y2="390.23" stroke="#000" stroke-width="1" />
<line x1="503.40" y1="390.23" x2="500.90" y2="390.23" stroke="#000" stroke-width="1" />
<line x1="323.80" y1="388.98" x2="326.30" y2="388.98" stroke="#000" stroke-width="1" />
<line x1="503.40" y1="388.98" x2="500.90" y2="388.98" stroke="#000" stroke-width="1" />
<line x1="323.80" y1="387.97" x2="326.30" y2="387.97" stroke="#000" stroke-width="1" />
<line x1="503.40" y1="387.97" x2="500.90" y2="387.97" stroke="#000" stroke-width="1" />
<line x1="323.80" y1="387.11" x2="326.30" y2="387.11" stroke="#000" stroke-width="1" />
<line x1="503.40" y1="387.11" x2="500.90" y2="387.11" stroke="#000" stroke-width="1" />
<line x1="323.80" y1="386.36" x2="326.30" y2="386.36" stroke="#000" stroke-width="1" />
<line x1="503.40" y1="386.36" x2="500.90" y2="386.36" stroke="#000" stroke-width="1" />
<line x1="323.80" y1="385.70" x2="326.30" y2="385.70" stroke="#000" stroke-width="1" />
<line x1="503.40" y1="385.70" x2="500.90" y2="385.70" stroke="#000" stroke-width="1" />
<line x1="323.80" y1="397.96" x2="328.30" y2="397.96" stroke="#000" stroke-width="1" />
<line x1="503.40" y1="397.96" x2="498.90" y2="397.96" stroke="#000" stroke-width="1" />
<line x1="323.80" y1="406.93" x2="326.30" y2="406.93" stroke="#000" stroke-width="1" />
<line x1="503.40" y1="406.93" x2="500.90" y2="406.93" stroke="#000" stroke-width="1" />
<line x1="323.80" y1="404.67" x2="326.30" y2="404.67" stroke="#000" stroke-width="1" />
<line x1="503.40" y1="404.67" x2="500.90" y2="404.67" stroke="#000" stroke-width="1" />
<line x1="323.80" y1="403.07" x2="326.30" y2="403.07" stroke="#000" stroke-width="1" />
<line x1="503.40" y1="403.07" x2="500.90" y2="403.07" stroke="#000" stroke-width="1" />
<line x1="323.80" y1="401.82" x2="326.30" y2="401.82" stroke="#000" stroke-width="1" />
<line x1="503.40" y1="401.82" x2="500.90" y2="401.82" stroke="#000" stroke-width="1" />
<line x1="323.80" y1="400.81" x2="326.30" y2="400.81" stroke="#000" stroke-width="1" />
<line x1="503.40" y1="400.81" x2="500.90" y2="400.81" stroke="#000" stroke-width="1" />
<line x1="323.80" y1="399.95" x2="326.30" y2="399.95" stroke="#000" stroke-width="1" />
<line x1="503.40" y1="399.95" x2="500.90" y2="399.95" stroke="#000" stroke-width="1" />
<line x1="323.80" y1="399.20" x2="326.30" y2="399.20" stroke="#000" stroke-width="1" />
<line x1="503.40" y1="399.20" x2="500.90" y2="399.20" stroke="#000" stroke-width="1" />
<line x1="323.80" y1="398.55" x2="326.30" y2="398.55" stroke="#000" stroke-width="1" />
<line x1="503.40" y1="398.55" x2="500.90" y2="398.55" stroke="#000" stroke-width="1" />
<line x1="323.80" y1="410.80" x2="328.30" y2="410.80" stroke="#000" stroke-width="1" />
<line x1="503.40" y1="410.80" x2="498.90" y2="410.80" stroke="#000" stroke-width="1" />
<line x1="353.73" y1="410.80" x2="353.73" y2="407.30" stroke="#000" stroke-width="1.2" />
<line x1="353.73" y1="333.75" x2="353.73" y2="337.25" stroke="#000" stroke-width="1.2" />
<line x1="383.67" y1="410.80" x2="383.67" y2="405.30" stroke="#000" stroke-width="1.2" />
<line x1="383.67" y1="333.75" x2="383.67" y2="339.25" stroke="#000" stroke-width="1.2" />
<line x1="413.60" y1="410.80" x2="413.60" y2="407.30" stroke="#000" stroke-width="1.2" />
<line x1="413.60" y1="333.75" x2="413.60" y2="337.25" stroke="#000" stroke-width="1.2" />
<line x1="443.53" y1="410.80" x2="443.53" y2="405.30" stroke="#000" stroke-width="1.2" />
<line x1="443.53" y1="333.75" x2="443.53" y2="339.25" stroke="#000" stroke-width="1.2" />
<line x1="473.47" y1="410.80" x2="473.47" y2="407.30" stroke="#000" stroke-width="1.2" />
<line x1="473.47" y1="333.75" x2="473.47" y2="337.25" stroke="#000" stroke-width="1.2" />
<rect x="323.8" y="333.75" width="179.60" height="77.05" fill="none" stroke="#000" stroke-width="2"/>
<text x="328.40" y="353.30" font-size="15" font-weight="bold" font-style="normal" fill="#000" text-anchor="start" textLength="66.5" lengthAdjust="spacingAndGlyphs">[µA/mm]</text>
<line x1="406.25" y1="343.00" x2="433.75" y2="343.00" stroke="#ee3333" stroke-width="1.2" />
<circle cx="420.00" cy="343.00" r="4.2" fill="#fff" stroke="#ee2222" stroke-width="1.2"/>
<text x="438.50" y="347.20" font-size="12" font-weight="bold" font-style="italic" fill="#000" text-anchor="start" >I</text>
<text x="442.60" y="352.60" font-size="8" font-weight="bold" font-style="italic" fill="#000" text-anchor="start" >ds</text>
<line x1="454.80" y1="343.40" x2="483.50" y2="343.40" stroke="#ee3333" stroke-width="1.2" />
<rect x="465.00" y="339.20" width="8.4" height="8.4" fill="#ee1111" />
<text x="486.80" y="347.20" font-size="12" font-weight="bold" font-style="italic" fill="#000" text-anchor="start" >I</text>
<text x="489.60" y="352.60" font-size="8" font-weight="bold" font-style="italic" fill="#000" text-anchor="start" >gs</text>
<text x="330.60" y="400.60" font-size="18.5" font-weight="bold" font-style="normal" fill="#dc1a24" text-anchor="start" textLength="88" lengthAdjust="spacingAndGlyphs">Sapphire</text>
<text x="472.40" y="403.00" font-size="19.5" font-weight="bold" font-style="normal" fill="#000" text-anchor="start" >(e)</text>
<text x="318.80" y="341.90" font-size="20" font-weight="bold" text-anchor="end">10<tspan font-size="12.5" font-weight="normal" dy="-10" dx="1">4</tspan></text>
<text x="318.80" y="380.50" font-size="20" font-weight="bold" text-anchor="end">10<tspan font-size="12.5" font-weight="normal" dy="-10" dx="1">1</tspan></text>
<text x="318.30" y="420.00" font-size="20" font-weight="bold" text-anchor="end">10<tspan font-size="12.5" font-weight="normal" dy="-10" dx="1">-2</tspan></text>
<text x="322.20" y="431.60" font-size="21" font-weight="bold" font-style="normal" fill="#000" text-anchor="middle" >0</text>
<text x="383.80" y="431.60" font-size="21" font-weight="bold" font-style="normal" fill="#000" text-anchor="middle" >50</text>
<text x="443.30" y="431.60" font-size="21" font-weight="bold" font-style="normal" fill="#000" text-anchor="middle" >100</text>
<text x="503.00" y="431.60" font-size="21" font-weight="bold" font-style="normal" fill="#000" text-anchor="middle" >150</text>
<text transform="translate(275.6,401.3) rotate(-90)" font-size="17" font-weight="bold" font-style="italic" fill="#000" textLength="55.5" lengthAdjust="spacingAndGlyphs">I<tspan font-size="11.5" dy="8">ds</tspan><tspan dy="-8"> , I</tspan><tspan font-size="11.5" dy="8">gs</tspan></text>
<text x="170.40" y="455.10" font-size="20.5" font-weight="bold" font-style="normal" fill="#000" textLength="198.62" lengthAdjust="spacingAndGlyphs">Drain-Source Bias,</text>
<text x="373.10" y="455.10" font-size="20.5" font-weight="bold" font-style="italic" fill="#000" textLength="12.11" lengthAdjust="spacingAndGlyphs">V</text>
<text x="386.20" y="463.80" font-size="11.5" font-weight="bold" font-style="italic" fill="#000" textLength="14.60" lengthAdjust="spacingAndGlyphs">ds</text>
<text x="405.80" y="455.10" font-size="20.5" font-weight="bold" font-style="normal" fill="#000" textLength="28.42" lengthAdjust="spacingAndGlyphs">[V]</text>
</svg></body></html>
